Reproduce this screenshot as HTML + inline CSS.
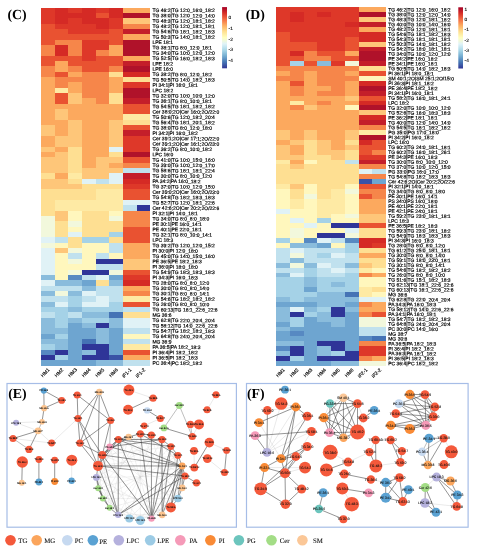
<!DOCTYPE html>
<html lang="en"><head><meta charset="utf-8"><title>Lipid heatmaps and networks</title>
<style>html,body{margin:0;padding:0;background:#fff}svg{display:block}text{text-rendering:geometricPrecision}</style></head>
<body>
<svg width="482" height="550" viewBox="0 0 482 550" shape-rendering="auto">
<defs><linearGradient id="cb" x1="0" y1="0" x2="0" y2="1">
<stop offset="0.000" stop-color="#a50026"/>
<stop offset="0.100" stop-color="#d73027"/>
<stop offset="0.200" stop-color="#f46d43"/>
<stop offset="0.300" stop-color="#fdae61"/>
<stop offset="0.400" stop-color="#fee090"/>
<stop offset="0.500" stop-color="#ffffbf"/>
<stop offset="0.600" stop-color="#e0f3f8"/>
<stop offset="0.700" stop-color="#abd9e9"/>
<stop offset="0.800" stop-color="#74add1"/>
<stop offset="0.900" stop-color="#4575b4"/>
<stop offset="1.000" stop-color="#313695"/>
</linearGradient></defs>
<rect width="482" height="550" fill="#fff"/>
<g shape-rendering="crispEdges">
<rect x="40.90" y="7.50" width="13.96" height="5.65" fill="#de3829"/>
<rect x="54.56" y="7.50" width="13.96" height="5.65" fill="#d52a25"/>
<rect x="68.22" y="7.50" width="13.96" height="5.65" fill="#de3829"/>
<rect x="81.88" y="7.50" width="13.96" height="5.65" fill="#d52a25"/>
<rect x="95.54" y="7.50" width="13.96" height="5.65" fill="#de3829"/>
<rect x="109.20" y="7.50" width="13.96" height="5.65" fill="#d52a25"/>
<rect x="122.86" y="7.50" width="27.62" height="5.65" fill="#fca95e"/>
<rect x="40.90" y="12.85" width="13.96" height="5.65" fill="#de3829"/>
<rect x="54.56" y="12.85" width="41.28" height="5.65" fill="#d52a25"/>
<rect x="95.54" y="12.85" width="13.96" height="5.65" fill="#e95231"/>
<rect x="109.20" y="12.85" width="13.96" height="5.65" fill="#d52a25"/>
<rect x="122.86" y="12.85" width="27.62" height="5.65" fill="#b0122a"/>
<rect x="40.90" y="18.19" width="13.96" height="5.65" fill="#de3829"/>
<rect x="54.56" y="18.19" width="13.96" height="5.65" fill="#d52a25"/>
<rect x="68.22" y="18.19" width="13.96" height="5.65" fill="#de3829"/>
<rect x="81.88" y="18.19" width="27.62" height="5.65" fill="#d52a25"/>
<rect x="109.20" y="18.19" width="13.96" height="5.65" fill="#de3829"/>
<rect x="122.86" y="18.19" width="27.62" height="5.65" fill="#fec679"/>
<rect x="40.90" y="23.54" width="13.96" height="5.65" fill="#e95231"/>
<rect x="54.56" y="23.54" width="41.28" height="5.65" fill="#de3829"/>
<rect x="95.54" y="23.54" width="13.96" height="5.65" fill="#d52a25"/>
<rect x="109.20" y="23.54" width="13.96" height="5.65" fill="#de3829"/>
<rect x="122.86" y="23.54" width="27.62" height="5.65" fill="#f6864a"/>
<rect x="40.90" y="28.89" width="27.62" height="5.65" fill="#e95231"/>
<rect x="68.22" y="28.89" width="41.28" height="5.65" fill="#de3829"/>
<rect x="109.20" y="28.89" width="13.96" height="5.65" fill="#e95231"/>
<rect x="122.86" y="28.89" width="27.62" height="5.65" fill="#c41e2a"/>
<rect x="40.90" y="34.23" width="82.26" height="5.65" fill="#e95231"/>
<rect x="122.86" y="34.23" width="27.62" height="5.65" fill="#fca95e"/>
<rect x="40.90" y="39.58" width="13.96" height="5.65" fill="#e95231"/>
<rect x="54.56" y="39.58" width="27.62" height="5.65" fill="#f6864a"/>
<rect x="81.88" y="39.58" width="27.62" height="5.65" fill="#de3829"/>
<rect x="109.20" y="39.58" width="13.96" height="5.65" fill="#e95231"/>
<rect x="122.86" y="39.58" width="27.62" height="5.65" fill="#b0122a"/>
<rect x="40.90" y="44.93" width="13.96" height="5.65" fill="#f6864a"/>
<rect x="54.56" y="44.93" width="13.96" height="5.65" fill="#d52a25"/>
<rect x="68.22" y="44.93" width="13.96" height="5.65" fill="#f6864a"/>
<rect x="81.88" y="44.93" width="27.62" height="5.65" fill="#de3829"/>
<rect x="109.20" y="44.93" width="13.96" height="5.65" fill="#fca95e"/>
<rect x="122.86" y="44.93" width="27.62" height="5.65" fill="#b0122a"/>
<rect x="40.90" y="50.28" width="13.96" height="5.65" fill="#f6864a"/>
<rect x="54.56" y="50.28" width="13.96" height="5.65" fill="#d52a25"/>
<rect x="68.22" y="50.28" width="13.96" height="5.65" fill="#f6864a"/>
<rect x="81.88" y="50.28" width="13.96" height="5.65" fill="#de3829"/>
<rect x="95.54" y="50.28" width="13.96" height="5.65" fill="#f6864a"/>
<rect x="109.20" y="50.28" width="13.96" height="5.65" fill="#fca95e"/>
<rect x="122.86" y="50.28" width="27.62" height="5.65" fill="#b0122a"/>
<rect x="40.90" y="55.62" width="41.28" height="5.65" fill="#e95231"/>
<rect x="81.88" y="55.62" width="13.96" height="5.65" fill="#de3829"/>
<rect x="95.54" y="55.62" width="27.62" height="5.65" fill="#e95231"/>
<rect x="122.86" y="55.62" width="27.62" height="5.65" fill="#fca95e"/>
<rect x="40.90" y="60.97" width="13.96" height="5.65" fill="#e95231"/>
<rect x="54.56" y="60.97" width="13.96" height="5.65" fill="#fca95e"/>
<rect x="68.22" y="60.97" width="54.94" height="5.65" fill="#e95231"/>
<rect x="122.86" y="60.97" width="27.62" height="5.65" fill="#c41e2a"/>
<rect x="40.90" y="66.32" width="13.96" height="5.65" fill="#f6864a"/>
<rect x="54.56" y="66.32" width="13.96" height="5.65" fill="#fca95e"/>
<rect x="68.22" y="66.32" width="13.96" height="5.65" fill="#f6864a"/>
<rect x="81.88" y="66.32" width="27.62" height="5.65" fill="#e95231"/>
<rect x="109.20" y="66.32" width="13.96" height="5.65" fill="#f6864a"/>
<rect x="122.86" y="66.32" width="27.62" height="5.65" fill="#b0122a"/>
<rect x="40.90" y="71.66" width="13.96" height="5.65" fill="#f6864a"/>
<rect x="54.56" y="71.66" width="13.96" height="5.65" fill="#e95231"/>
<rect x="68.22" y="71.66" width="13.96" height="5.65" fill="#fca95e"/>
<rect x="81.88" y="71.66" width="27.62" height="5.65" fill="#f6864a"/>
<rect x="109.20" y="71.66" width="13.96" height="5.65" fill="#fedf92"/>
<rect x="122.86" y="71.66" width="27.62" height="5.65" fill="#d52a25"/>
<rect x="40.90" y="77.01" width="13.96" height="5.65" fill="#fca95e"/>
<rect x="54.56" y="77.01" width="54.94" height="5.65" fill="#f6864a"/>
<rect x="109.20" y="77.01" width="13.96" height="5.65" fill="#fca95e"/>
<rect x="122.86" y="77.01" width="27.62" height="5.65" fill="#fedf92"/>
<rect x="40.90" y="82.36" width="13.96" height="5.65" fill="#fca95e"/>
<rect x="54.56" y="82.36" width="13.96" height="5.65" fill="#f6864a"/>
<rect x="68.22" y="82.36" width="13.96" height="5.65" fill="#fca95e"/>
<rect x="81.88" y="82.36" width="27.62" height="5.65" fill="#f6864a"/>
<rect x="109.20" y="82.36" width="13.96" height="5.65" fill="#fca95e"/>
<rect x="122.86" y="82.36" width="27.62" height="5.65" fill="#de3829"/>
<rect x="40.90" y="87.71" width="13.96" height="5.65" fill="#fca95e"/>
<rect x="54.56" y="87.71" width="13.96" height="5.65" fill="#feeaa4"/>
<rect x="68.22" y="87.71" width="13.96" height="5.65" fill="#fca95e"/>
<rect x="81.88" y="87.71" width="27.62" height="5.65" fill="#f6864a"/>
<rect x="109.20" y="87.71" width="13.96" height="5.65" fill="#fca95e"/>
<rect x="122.86" y="87.71" width="27.62" height="5.65" fill="#b0122a"/>
<rect x="40.90" y="93.05" width="13.96" height="5.65" fill="#fca95e"/>
<rect x="54.56" y="93.05" width="13.96" height="5.65" fill="#e95231"/>
<rect x="68.22" y="93.05" width="13.96" height="5.65" fill="#fec679"/>
<rect x="81.88" y="93.05" width="27.62" height="5.65" fill="#f6864a"/>
<rect x="109.20" y="93.05" width="13.96" height="5.65" fill="#fedf92"/>
<rect x="122.86" y="93.05" width="27.62" height="5.65" fill="#b0122a"/>
<rect x="40.90" y="98.40" width="13.96" height="5.65" fill="#fca95e"/>
<rect x="54.56" y="98.40" width="13.96" height="5.65" fill="#e95231"/>
<rect x="68.22" y="98.40" width="13.96" height="5.65" fill="#fec679"/>
<rect x="81.88" y="98.40" width="13.96" height="5.65" fill="#fca95e"/>
<rect x="95.54" y="98.40" width="13.96" height="5.65" fill="#f6864a"/>
<rect x="109.20" y="98.40" width="13.96" height="5.65" fill="#fedf92"/>
<rect x="122.86" y="98.40" width="27.62" height="5.65" fill="#c41e2a"/>
<rect x="40.90" y="103.75" width="82.26" height="5.65" fill="#fca95e"/>
<rect x="122.86" y="103.75" width="27.62" height="5.65" fill="#e95231"/>
<rect x="40.90" y="109.09" width="13.96" height="5.65" fill="#fca95e"/>
<rect x="54.56" y="109.09" width="13.96" height="5.65" fill="#fec679"/>
<rect x="68.22" y="109.09" width="54.94" height="5.65" fill="#fca95e"/>
<rect x="122.86" y="109.09" width="27.62" height="5.65" fill="#e95231"/>
<rect x="40.90" y="114.44" width="13.96" height="5.65" fill="#fca95e"/>
<rect x="54.56" y="114.44" width="13.96" height="5.65" fill="#fec679"/>
<rect x="68.22" y="114.44" width="54.94" height="5.65" fill="#fca95e"/>
<rect x="122.86" y="114.44" width="27.62" height="5.65" fill="#feeaa4"/>
<rect x="40.90" y="119.79" width="27.62" height="5.65" fill="#fca95e"/>
<rect x="68.22" y="119.79" width="13.96" height="5.65" fill="#fec679"/>
<rect x="81.88" y="119.79" width="27.62" height="5.65" fill="#fca95e"/>
<rect x="109.20" y="119.79" width="13.96" height="5.65" fill="#fec679"/>
<rect x="122.86" y="119.79" width="27.62" height="5.65" fill="#fedf92"/>
<rect x="40.90" y="125.13" width="13.96" height="5.65" fill="#fec679"/>
<rect x="54.56" y="125.13" width="13.96" height="5.65" fill="#fca95e"/>
<rect x="68.22" y="125.13" width="13.96" height="5.65" fill="#fec679"/>
<rect x="81.88" y="125.13" width="27.62" height="5.65" fill="#fca95e"/>
<rect x="109.20" y="125.13" width="13.96" height="5.65" fill="#fec679"/>
<rect x="122.86" y="125.13" width="27.62" height="5.65" fill="#e95231"/>
<rect x="40.90" y="130.48" width="13.96" height="5.65" fill="#fec679"/>
<rect x="54.56" y="130.48" width="13.96" height="5.65" fill="#fca95e"/>
<rect x="68.22" y="130.48" width="13.96" height="5.65" fill="#fec679"/>
<rect x="81.88" y="130.48" width="27.62" height="5.65" fill="#fca95e"/>
<rect x="109.20" y="130.48" width="13.96" height="5.65" fill="#fec679"/>
<rect x="122.86" y="130.48" width="27.62" height="5.65" fill="#c41e2a"/>
<rect x="40.90" y="135.83" width="13.96" height="5.65" fill="#fca95e"/>
<rect x="54.56" y="135.83" width="27.62" height="5.65" fill="#fec679"/>
<rect x="81.88" y="135.83" width="27.62" height="5.65" fill="#fca95e"/>
<rect x="109.20" y="135.83" width="13.96" height="5.65" fill="#fec679"/>
<rect x="122.86" y="135.83" width="27.62" height="5.65" fill="#de3829"/>
<rect x="40.90" y="141.18" width="13.96" height="5.65" fill="#fca95e"/>
<rect x="54.56" y="141.18" width="27.62" height="5.65" fill="#fec679"/>
<rect x="81.88" y="141.18" width="27.62" height="5.65" fill="#fca95e"/>
<rect x="109.20" y="141.18" width="13.96" height="5.65" fill="#fec679"/>
<rect x="122.86" y="141.18" width="27.62" height="5.65" fill="#de3829"/>
<rect x="40.90" y="146.52" width="13.96" height="5.65" fill="#fec679"/>
<rect x="54.56" y="146.52" width="13.96" height="5.65" fill="#fca95e"/>
<rect x="68.22" y="146.52" width="13.96" height="5.65" fill="#fedf92"/>
<rect x="81.88" y="146.52" width="27.62" height="5.65" fill="#fca95e"/>
<rect x="109.20" y="146.52" width="13.96" height="5.65" fill="#e0f2f6"/>
<rect x="122.86" y="146.52" width="27.62" height="5.65" fill="#de3829"/>
<rect x="40.90" y="151.87" width="13.96" height="5.65" fill="#fca95e"/>
<rect x="54.56" y="151.87" width="13.96" height="5.65" fill="#fec679"/>
<rect x="68.22" y="151.87" width="13.96" height="5.65" fill="#fedf92"/>
<rect x="81.88" y="151.87" width="27.62" height="5.65" fill="#fca95e"/>
<rect x="109.20" y="151.87" width="13.96" height="5.65" fill="#fedf92"/>
<rect x="122.86" y="151.87" width="27.62" height="5.65" fill="#b0122a"/>
<rect x="40.90" y="157.22" width="27.62" height="5.65" fill="#fec679"/>
<rect x="68.22" y="157.22" width="13.96" height="5.65" fill="#fedf92"/>
<rect x="81.88" y="157.22" width="13.96" height="5.65" fill="#fca95e"/>
<rect x="95.54" y="157.22" width="27.62" height="5.65" fill="#fec679"/>
<rect x="122.86" y="157.22" width="27.62" height="5.65" fill="#e95231"/>
<rect x="40.90" y="162.56" width="27.62" height="5.65" fill="#fec679"/>
<rect x="68.22" y="162.56" width="13.96" height="5.65" fill="#fedf92"/>
<rect x="81.88" y="162.56" width="13.96" height="5.65" fill="#fca95e"/>
<rect x="95.54" y="162.56" width="13.96" height="5.65" fill="#fec679"/>
<rect x="109.20" y="162.56" width="13.96" height="5.65" fill="#fca95e"/>
<rect x="122.86" y="162.56" width="27.62" height="5.65" fill="#f6864a"/>
<rect x="40.90" y="167.91" width="27.62" height="5.65" fill="#fec679"/>
<rect x="68.22" y="167.91" width="13.96" height="5.65" fill="#fedf92"/>
<rect x="81.88" y="167.91" width="41.28" height="5.65" fill="#fec679"/>
<rect x="122.86" y="167.91" width="27.62" height="5.65" fill="#c0e1ee"/>
<rect x="40.90" y="173.26" width="13.96" height="5.65" fill="#fedf92"/>
<rect x="54.56" y="173.26" width="13.96" height="5.65" fill="#fca95e"/>
<rect x="68.22" y="173.26" width="13.96" height="5.65" fill="#feeaa4"/>
<rect x="81.88" y="173.26" width="27.62" height="5.65" fill="#fec679"/>
<rect x="109.20" y="173.26" width="13.96" height="5.65" fill="#e0f2f6"/>
<rect x="122.86" y="173.26" width="27.62" height="5.65" fill="#c41e2a"/>
<rect x="40.90" y="178.60" width="27.62" height="5.65" fill="#fec679"/>
<rect x="68.22" y="178.60" width="13.96" height="5.65" fill="#fedf92"/>
<rect x="81.88" y="178.60" width="13.96" height="5.65" fill="#e0f2f6"/>
<rect x="95.54" y="178.60" width="13.96" height="5.65" fill="#c0e1ee"/>
<rect x="109.20" y="178.60" width="13.96" height="5.65" fill="#e0f2f6"/>
<rect x="122.86" y="178.60" width="27.62" height="5.65" fill="#d52a25"/>
<rect x="40.90" y="183.95" width="41.28" height="5.65" fill="#fec679"/>
<rect x="81.88" y="183.95" width="41.28" height="5.65" fill="#fedf92"/>
<rect x="122.86" y="183.95" width="27.62" height="5.65" fill="#de3829"/>
<rect x="40.90" y="189.30" width="54.94" height="5.65" fill="#fedf92"/>
<rect x="95.54" y="189.30" width="27.62" height="5.65" fill="#feeaa4"/>
<rect x="122.86" y="189.30" width="27.62" height="5.65" fill="#e95231"/>
<rect x="40.90" y="194.65" width="54.94" height="5.65" fill="#fedf92"/>
<rect x="95.54" y="194.65" width="27.62" height="5.65" fill="#feeaa4"/>
<rect x="122.86" y="194.65" width="27.62" height="5.65" fill="#e95231"/>
<rect x="40.90" y="199.99" width="13.96" height="5.65" fill="#fedf92"/>
<rect x="54.56" y="199.99" width="68.60" height="5.65" fill="#feeaa4"/>
<rect x="122.86" y="199.99" width="27.62" height="5.65" fill="#e0f2f6"/>
<rect x="40.90" y="205.34" width="13.96" height="5.65" fill="#fedf92"/>
<rect x="54.56" y="205.34" width="68.60" height="5.65" fill="#feeaa4"/>
<rect x="122.86" y="205.34" width="13.96" height="5.65" fill="#c0e1ee"/>
<rect x="136.52" y="205.34" width="13.96" height="5.65" fill="#2f3598"/>
<rect x="40.90" y="210.69" width="13.96" height="5.65" fill="#fedf92"/>
<rect x="54.56" y="210.69" width="13.96" height="5.65" fill="#fec679"/>
<rect x="68.22" y="210.69" width="13.96" height="5.65" fill="#fff7bd"/>
<rect x="81.88" y="210.69" width="27.62" height="5.65" fill="#fedf92"/>
<rect x="109.20" y="210.69" width="13.96" height="5.65" fill="#fff7bd"/>
<rect x="122.86" y="210.69" width="27.62" height="5.65" fill="#f6864a"/>
<rect x="40.90" y="216.03" width="13.96" height="5.65" fill="#f2f8dc"/>
<rect x="54.56" y="216.03" width="13.96" height="5.65" fill="#fec679"/>
<rect x="68.22" y="216.03" width="13.96" height="5.65" fill="#fff7bd"/>
<rect x="81.88" y="216.03" width="27.62" height="5.65" fill="#fedf92"/>
<rect x="109.20" y="216.03" width="13.96" height="5.65" fill="#f2f8dc"/>
<rect x="122.86" y="216.03" width="27.62" height="5.65" fill="#f6864a"/>
<rect x="40.90" y="221.38" width="13.96" height="5.65" fill="#f2f8dc"/>
<rect x="54.56" y="221.38" width="13.96" height="5.65" fill="#fedf92"/>
<rect x="68.22" y="221.38" width="13.96" height="5.65" fill="#f2f8dc"/>
<rect x="81.88" y="221.38" width="41.28" height="5.65" fill="#fedf92"/>
<rect x="122.86" y="221.38" width="27.62" height="5.65" fill="#f6864a"/>
<rect x="40.90" y="226.73" width="13.96" height="5.65" fill="#f2f8dc"/>
<rect x="54.56" y="226.73" width="13.96" height="5.65" fill="#fedf92"/>
<rect x="68.22" y="226.73" width="13.96" height="5.65" fill="#fff7bd"/>
<rect x="81.88" y="226.73" width="41.28" height="5.65" fill="#fedf92"/>
<rect x="122.86" y="226.73" width="27.62" height="5.65" fill="#e95231"/>
<rect x="40.90" y="232.07" width="13.96" height="5.65" fill="#f2f8dc"/>
<rect x="54.56" y="232.07" width="13.96" height="5.65" fill="#fedf92"/>
<rect x="68.22" y="232.07" width="13.96" height="5.65" fill="#e0f2f6"/>
<rect x="81.88" y="232.07" width="27.62" height="5.65" fill="#fedf92"/>
<rect x="109.20" y="232.07" width="13.96" height="5.65" fill="#a5d2e7"/>
<rect x="122.86" y="232.07" width="27.62" height="5.65" fill="#e95231"/>
<rect x="40.90" y="237.42" width="13.96" height="5.65" fill="#e0f2f6"/>
<rect x="54.56" y="237.42" width="13.96" height="5.65" fill="#c0e1ee"/>
<rect x="68.22" y="237.42" width="13.96" height="5.65" fill="#fedf92"/>
<rect x="81.88" y="237.42" width="27.62" height="5.65" fill="#a5d2e7"/>
<rect x="109.20" y="237.42" width="13.96" height="5.65" fill="#fedf92"/>
<rect x="122.86" y="237.42" width="27.62" height="5.65" fill="#e95231"/>
<rect x="40.90" y="242.77" width="13.96" height="5.65" fill="#f2f8dc"/>
<rect x="54.56" y="242.77" width="13.96" height="5.65" fill="#fff7bd"/>
<rect x="68.22" y="242.77" width="13.96" height="5.65" fill="#fedf92"/>
<rect x="81.88" y="242.77" width="27.62" height="5.65" fill="#fff7bd"/>
<rect x="109.20" y="242.77" width="13.96" height="5.65" fill="#c0e1ee"/>
<rect x="122.86" y="242.77" width="27.62" height="5.65" fill="#fca95e"/>
<rect x="40.90" y="248.12" width="13.96" height="5.65" fill="#e0f2f6"/>
<rect x="54.56" y="248.12" width="13.96" height="5.65" fill="#fec679"/>
<rect x="68.22" y="248.12" width="13.96" height="5.65" fill="#f2f8dc"/>
<rect x="81.88" y="248.12" width="27.62" height="5.65" fill="#fff7bd"/>
<rect x="109.20" y="248.12" width="13.96" height="5.65" fill="#c0e1ee"/>
<rect x="122.86" y="248.12" width="27.62" height="5.65" fill="#fca95e"/>
<rect x="40.90" y="253.46" width="13.96" height="5.65" fill="#e0f2f6"/>
<rect x="54.56" y="253.46" width="13.96" height="5.65" fill="#fff7bd"/>
<rect x="68.22" y="253.46" width="13.96" height="5.65" fill="#c0e1ee"/>
<rect x="81.88" y="253.46" width="13.96" height="5.65" fill="#fff7bd"/>
<rect x="95.54" y="253.46" width="13.96" height="5.65" fill="#c0e1ee"/>
<rect x="109.20" y="253.46" width="13.96" height="5.65" fill="#fff7bd"/>
<rect x="122.86" y="253.46" width="27.62" height="5.65" fill="#fca95e"/>
<rect x="40.90" y="258.81" width="13.96" height="5.65" fill="#e0f2f6"/>
<rect x="54.56" y="258.81" width="13.96" height="5.65" fill="#fff7bd"/>
<rect x="68.22" y="258.81" width="13.96" height="5.65" fill="#f2f8dc"/>
<rect x="81.88" y="258.81" width="13.96" height="5.65" fill="#fff7bd"/>
<rect x="95.54" y="258.81" width="27.62" height="5.65" fill="#2f3598"/>
<rect x="122.86" y="258.81" width="27.62" height="5.65" fill="#fec679"/>
<rect x="40.90" y="264.16" width="13.96" height="5.65" fill="#e0f2f6"/>
<rect x="54.56" y="264.16" width="41.28" height="5.65" fill="#fff7bd"/>
<rect x="95.54" y="264.16" width="27.62" height="5.65" fill="#c0e1ee"/>
<rect x="122.86" y="264.16" width="27.62" height="5.65" fill="#fec679"/>
<rect x="40.90" y="269.50" width="13.96" height="5.65" fill="#e0f2f6"/>
<rect x="54.56" y="269.50" width="13.96" height="5.65" fill="#fff7bd"/>
<rect x="68.22" y="269.50" width="13.96" height="5.65" fill="#f2f8dc"/>
<rect x="81.88" y="269.50" width="27.62" height="5.65" fill="#2f3598"/>
<rect x="109.20" y="269.50" width="13.96" height="5.65" fill="#f2f8dc"/>
<rect x="122.86" y="269.50" width="27.62" height="5.65" fill="#e95231"/>
<rect x="40.90" y="274.85" width="13.96" height="5.65" fill="#8abcdc"/>
<rect x="54.56" y="274.85" width="13.96" height="5.65" fill="#fff7bd"/>
<rect x="68.22" y="274.85" width="13.96" height="5.65" fill="#5789c2"/>
<rect x="81.88" y="274.85" width="13.96" height="5.65" fill="#c0e1ee"/>
<rect x="95.54" y="274.85" width="13.96" height="5.65" fill="#e0f2f6"/>
<rect x="109.20" y="274.85" width="13.96" height="5.65" fill="#6ea5d0"/>
<rect x="122.86" y="274.85" width="27.62" height="5.65" fill="#de3829"/>
<rect x="40.90" y="280.20" width="13.96" height="5.65" fill="#e0f2f6"/>
<rect x="54.56" y="280.20" width="27.62" height="5.65" fill="#8abcdc"/>
<rect x="81.88" y="280.20" width="13.96" height="5.65" fill="#6ea5d0"/>
<rect x="95.54" y="280.20" width="13.96" height="5.65" fill="#fedf92"/>
<rect x="109.20" y="280.20" width="13.96" height="5.65" fill="#8abcdc"/>
<rect x="122.86" y="280.20" width="27.62" height="5.65" fill="#d52a25"/>
<rect x="40.90" y="285.54" width="41.28" height="5.65" fill="#c0e1ee"/>
<rect x="81.88" y="285.54" width="13.96" height="5.65" fill="#8abcdc"/>
<rect x="95.54" y="285.54" width="27.62" height="5.65" fill="#c0e1ee"/>
<rect x="122.86" y="285.54" width="27.62" height="5.65" fill="#fca95e"/>
<rect x="40.90" y="290.89" width="13.96" height="5.65" fill="#8abcdc"/>
<rect x="54.56" y="290.89" width="13.96" height="5.65" fill="#f2f8dc"/>
<rect x="68.22" y="290.89" width="13.96" height="5.65" fill="#8abcdc"/>
<rect x="81.88" y="290.89" width="13.96" height="5.65" fill="#e0f2f6"/>
<rect x="95.54" y="290.89" width="27.62" height="5.65" fill="#c0e1ee"/>
<rect x="122.86" y="290.89" width="27.62" height="5.65" fill="#f6864a"/>
<rect x="40.90" y="296.24" width="27.62" height="5.65" fill="#c0e1ee"/>
<rect x="68.22" y="296.24" width="13.96" height="5.65" fill="#a5d2e7"/>
<rect x="81.88" y="296.24" width="13.96" height="5.65" fill="#c0e1ee"/>
<rect x="95.54" y="296.24" width="13.96" height="5.65" fill="#e0f2f6"/>
<rect x="109.20" y="296.24" width="13.96" height="5.65" fill="#c0e1ee"/>
<rect x="122.86" y="296.24" width="27.62" height="5.65" fill="#feeaa4"/>
<rect x="40.90" y="301.59" width="13.96" height="5.65" fill="#8abcdc"/>
<rect x="54.56" y="301.59" width="13.96" height="5.65" fill="#e0f2f6"/>
<rect x="68.22" y="301.59" width="13.96" height="5.65" fill="#a5d2e7"/>
<rect x="81.88" y="301.59" width="27.62" height="5.65" fill="#e0f2f6"/>
<rect x="109.20" y="301.59" width="13.96" height="5.65" fill="#a5d2e7"/>
<rect x="122.86" y="301.59" width="27.62" height="5.65" fill="#e95231"/>
<rect x="40.90" y="306.93" width="27.62" height="5.65" fill="#a5d2e7"/>
<rect x="68.22" y="306.93" width="13.96" height="5.65" fill="#8abcdc"/>
<rect x="81.88" y="306.93" width="41.28" height="5.65" fill="#a5d2e7"/>
<rect x="122.86" y="306.93" width="27.62" height="5.65" fill="#c0e1ee"/>
<rect x="40.90" y="312.28" width="13.96" height="5.65" fill="#c0e1ee"/>
<rect x="54.56" y="312.28" width="13.96" height="5.65" fill="#a5d2e7"/>
<rect x="68.22" y="312.28" width="13.96" height="5.65" fill="#c0e1ee"/>
<rect x="81.88" y="312.28" width="27.62" height="5.65" fill="#8abcdc"/>
<rect x="109.20" y="312.28" width="13.96" height="5.65" fill="#4573b5"/>
<rect x="122.86" y="312.28" width="27.62" height="5.65" fill="#fedf92"/>
<rect x="40.90" y="317.63" width="13.96" height="5.65" fill="#8abcdc"/>
<rect x="54.56" y="317.63" width="13.96" height="5.65" fill="#a5d2e7"/>
<rect x="68.22" y="317.63" width="13.96" height="5.65" fill="#8abcdc"/>
<rect x="81.88" y="317.63" width="27.62" height="5.65" fill="#a5d2e7"/>
<rect x="109.20" y="317.63" width="13.96" height="5.65" fill="#8abcdc"/>
<rect x="122.86" y="317.63" width="27.62" height="5.65" fill="#e0f2f6"/>
<rect x="40.90" y="322.97" width="13.96" height="5.65" fill="#8abcdc"/>
<rect x="54.56" y="322.97" width="13.96" height="5.65" fill="#a5d2e7"/>
<rect x="68.22" y="322.97" width="13.96" height="5.65" fill="#6ea5d0"/>
<rect x="81.88" y="322.97" width="13.96" height="5.65" fill="#8abcdc"/>
<rect x="95.54" y="322.97" width="13.96" height="5.65" fill="#2f3598"/>
<rect x="109.20" y="322.97" width="13.96" height="5.65" fill="#8abcdc"/>
<rect x="122.86" y="322.97" width="27.62" height="5.65" fill="#e0f2f6"/>
<rect x="40.90" y="328.32" width="27.62" height="5.65" fill="#8abcdc"/>
<rect x="68.22" y="328.32" width="27.62" height="5.65" fill="#6ea5d0"/>
<rect x="95.54" y="328.32" width="13.96" height="5.65" fill="#8abcdc"/>
<rect x="109.20" y="328.32" width="13.96" height="5.65" fill="#6ea5d0"/>
<rect x="122.86" y="328.32" width="27.62" height="5.65" fill="#c0e1ee"/>
<rect x="40.90" y="333.67" width="13.96" height="5.65" fill="#6ea5d0"/>
<rect x="54.56" y="333.67" width="13.96" height="5.65" fill="#a5d2e7"/>
<rect x="68.22" y="333.67" width="27.62" height="5.65" fill="#6ea5d0"/>
<rect x="95.54" y="333.67" width="13.96" height="5.65" fill="#8abcdc"/>
<rect x="109.20" y="333.67" width="13.96" height="5.65" fill="#6ea5d0"/>
<rect x="122.86" y="333.67" width="27.62" height="5.65" fill="#fff7bd"/>
<rect x="40.90" y="339.01" width="27.62" height="5.65" fill="#8abcdc"/>
<rect x="68.22" y="339.01" width="13.96" height="5.65" fill="#6ea5d0"/>
<rect x="81.88" y="339.01" width="13.96" height="5.65" fill="#4573b5"/>
<rect x="95.54" y="339.01" width="13.96" height="5.65" fill="#8abcdc"/>
<rect x="109.20" y="339.01" width="13.96" height="5.65" fill="#6ea5d0"/>
<rect x="122.86" y="339.01" width="27.62" height="5.65" fill="#c0e1ee"/>
<rect x="40.90" y="344.36" width="13.96" height="5.65" fill="#a5d2e7"/>
<rect x="54.56" y="344.36" width="13.96" height="5.65" fill="#8abcdc"/>
<rect x="68.22" y="344.36" width="13.96" height="5.65" fill="#6ea5d0"/>
<rect x="81.88" y="344.36" width="27.62" height="5.65" fill="#2f3598"/>
<rect x="109.20" y="344.36" width="13.96" height="5.65" fill="#6ea5d0"/>
<rect x="122.86" y="344.36" width="27.62" height="5.65" fill="#feeaa4"/>
<rect x="40.90" y="349.71" width="13.96" height="5.65" fill="#5789c2"/>
<rect x="54.56" y="349.71" width="13.96" height="5.65" fill="#2f3598"/>
<rect x="68.22" y="349.71" width="13.96" height="5.65" fill="#6ea5d0"/>
<rect x="81.88" y="349.71" width="13.96" height="5.65" fill="#8abcdc"/>
<rect x="95.54" y="349.71" width="13.96" height="5.65" fill="#2f3598"/>
<rect x="109.20" y="349.71" width="13.96" height="5.65" fill="#6ea5d0"/>
<rect x="122.86" y="349.71" width="27.62" height="5.65" fill="#e95231"/>
<rect x="40.90" y="355.06" width="13.96" height="5.65" fill="#2f3598"/>
<rect x="54.56" y="355.06" width="13.96" height="5.65" fill="#a5d2e7"/>
<rect x="68.22" y="355.06" width="13.96" height="5.65" fill="#6ea5d0"/>
<rect x="81.88" y="355.06" width="27.62" height="5.65" fill="#2f3598"/>
<rect x="109.20" y="355.06" width="13.96" height="5.65" fill="#3a52a6"/>
<rect x="122.86" y="355.06" width="27.62" height="5.65" fill="#fca95e"/>
<rect x="40.90" y="360.40" width="54.94" height="5.65" fill="#6ea5d0"/>
<rect x="95.54" y="360.40" width="27.62" height="5.65" fill="#8abcdc"/>
<rect x="122.86" y="360.40" width="27.62" height="5.65" fill="#c0e1ee"/>
</g>
<g font-family="Liberation Sans, sans-serif" font-size="5" fill="#000" stroke="#000" stroke-width="0.18" transform="translate(152.4,0) matrix(1,0.003,0,1,0,0)">
<text x="0" y="11.92">TG 46:2|TG 12:0_16:0_18:2</text>
<text x="0" y="17.27">TG 38:0|TG 12:0_12:0_14:0</text>
<text x="0" y="22.62">TG 48:3|TG 12:0_18:1_18:2</text>
<text x="0" y="27.96">TG 48:2|TG 12:0_18:1_18:1</text>
<text x="0" y="33.31">TG 54:6|TG 18:1_18:2_18:3</text>
<text x="0" y="38.66">TG 50:3|TG 14:0_18:1_18:2</text>
<text x="0" y="44.01">LPE 18:1</text>
<text x="0" y="49.35">TG 38:1|TG 8:0_12:0_18:1</text>
<text x="0" y="54.70">TG 34:0|TG 10:0_12:0_12:0</text>
<text x="0" y="60.05">TG 52:5|TG 16:0_18:2_18:3</text>
<text x="0" y="65.39">LPE 18:2</text>
<text x="0" y="70.74">LPE 16:0</text>
<text x="0" y="76.09">TG 38:2|TG 8:0_12:0_18:2</text>
<text x="0" y="81.43">TG 50:5|TG 14:0_18:2_18:3</text>
<text x="0" y="86.78">PI 34:1|PI 16:0_18:1</text>
<text x="0" y="92.13">LPC 18:2</text>
<text x="0" y="97.48">TG 32:0|TG 10:0_10:0_12:0</text>
<text x="0" y="102.82">TG 36:1|TG 8:0_10:0_18:1</text>
<text x="0" y="108.17">TG 54:5|TG 18:1_18:2_18:2</text>
<text x="0" y="113.52">Cer 38:0;2O|Cer 16:0;2O/22:0</text>
<text x="0" y="118.86">TG 50:6|TG 12:0_18:2_20:4</text>
<text x="0" y="124.21">TG 56:4|TG 18:1_20:1_18:2</text>
<text x="0" y="129.56">TG 38:0|TG 8:0_12:0_18:0</text>
<text x="0" y="134.90">PI 34:2|PI 16:0_18:2</text>
<text x="0" y="140.25">Cer 39:1;2O|Cer 17:1;2O/22:0</text>
<text x="0" y="145.60">Cer 39:1;2O|Cer 16:1;2O/23:0</text>
<text x="0" y="150.95">TG 36:2|TG 8:0_10:0_18:2</text>
<text x="0" y="156.29">LPC 16:0</text>
<text x="0" y="161.64">TG 41:0|TG 10:0_15:0_16:0</text>
<text x="0" y="166.99">TG 39:0|TG 10:0_12:0_17:0</text>
<text x="0" y="172.33">TG 58:6|TG 18:1_18:1_22:4</text>
<text x="0" y="177.68">TG 30:0|TG 8:0_10:0_12:0</text>
<text x="0" y="183.03">PA 34:2|PA 16:0_18:2</text>
<text x="0" y="188.37">TG 37:0|TG 10:0_12:0_15:0</text>
<text x="0" y="193.72">Cer 39:0;2O|Cer 16:0;2O/23:0</text>
<text x="0" y="199.07">TG 54:8|TG 18:2_18:3_18:3</text>
<text x="0" y="204.42">TG 52:7|TG 12:0_18:1_22:6</text>
<text x="0" y="209.76">Cer 42:6;2O|Cer 20:2;2O/22:6</text>
<text x="0" y="215.11">PI 32:1|PI 14:0_18:1</text>
<text x="0" y="220.46">TG 34:0|TG 8:0_8:0_18:0</text>
<text x="0" y="225.80">PE 30:1|PE 16:0_14:1</text>
<text x="0" y="231.15">PE 40:1|PE 22:0_18:1</text>
<text x="0" y="236.50">TG 32:1|TG 8:0_10:0_14:1</text>
<text x="0" y="241.84">LPC 18:3</text>
<text x="0" y="247.19">TG 39:2|TG 12:0_12:0_15:2</text>
<text x="0" y="252.54">PI 30:0|PI 12:0_18:0</text>
<text x="0" y="257.89">TG 45:0|TG 14:0_15:0_16:0</text>
<text x="0" y="263.23">PE 36:5|PE 18:2_18:3</text>
<text x="0" y="268.58">PI 36:0|PI 18:0_18:0</text>
<text x="0" y="273.93">TG 54:9|TG 18:3_18:3_18:3</text>
<text x="0" y="279.27">PI 34:3|PI 16:0_18:3</text>
<text x="0" y="284.62">TG 28:0|TG 8:0_8:0_12:0</text>
<text x="0" y="289.97">TG 30:0|TG 8:0_8:0_14:0</text>
<text x="0" y="295.31">TG 30:1|TG 8:0_8:0_14:1</text>
<text x="0" y="300.66">TG 54:6|TG 18:2_18:2_18:2</text>
<text x="0" y="306.01">TG 26:0|TG 8:0_8:0_10:0</text>
<text x="0" y="311.36">TG 60:13|TG 16:1_22:6_22:6</text>
<text x="0" y="316.70">MG 36:6</text>
<text x="0" y="322.05">TG 62:8|TG 22:0_20:4_20:4</text>
<text x="0" y="327.40">TG 58:12|TG 14:0_22:6_22:6</text>
<text x="0" y="332.74">TG 54:7|TG 18:2_18:2_18:3</text>
<text x="0" y="338.09">TG 64:8|TG 24:0_20:4_20:4</text>
<text x="0" y="343.44">MG 36:9</text>
<text x="0" y="348.78">PA 36:5|PA 18:2_18:3</text>
<text x="0" y="354.13">PI 36:4|PI 18:2_18:2</text>
<text x="0" y="359.48">PI 36:5|PI 18:2_18:3</text>
<text x="0" y="364.83">PC 36:4|PC 18:2_18:2</text>
</g>
<g font-family="Liberation Sans, sans-serif" font-size="4.9" fill="#000" stroke="#000" stroke-width="0.15" text-anchor="end">
<text transform="translate(50.03,370.15) rotate(-45)">HM1</text>
<text transform="translate(63.69,370.15) rotate(-45)">HM2</text>
<text transform="translate(77.35,370.15) rotate(-45)">HM3</text>
<text transform="translate(91.01,370.15) rotate(-45)">HM4</text>
<text transform="translate(104.67,370.15) rotate(-45)">HM5</text>
<text transform="translate(118.33,370.15) rotate(-45)">HM6</text>
<text transform="translate(131.99,370.15) rotate(-45)">IF1-1</text>
<text transform="translate(145.65,370.15) rotate(-45)">IF1-2</text>
</g>
<g shape-rendering="crispEdges">
<rect x="276.00" y="7.20" width="82.92" height="5.21" fill="#de3829"/>
<rect x="358.62" y="7.20" width="27.84" height="5.21" fill="#fca95e"/>
<rect x="276.00" y="12.11" width="14.07" height="5.21" fill="#de3829"/>
<rect x="289.77" y="12.11" width="14.07" height="5.21" fill="#d52a25"/>
<rect x="303.54" y="12.11" width="14.07" height="5.21" fill="#de3829"/>
<rect x="317.31" y="12.11" width="14.07" height="5.21" fill="#d52a25"/>
<rect x="331.08" y="12.11" width="27.84" height="5.21" fill="#de3829"/>
<rect x="358.62" y="12.11" width="27.84" height="5.21" fill="#b0122a"/>
<rect x="276.00" y="17.03" width="14.07" height="5.21" fill="#de3829"/>
<rect x="289.77" y="17.03" width="14.07" height="5.21" fill="#d52a25"/>
<rect x="303.54" y="17.03" width="55.38" height="5.21" fill="#de3829"/>
<rect x="358.62" y="17.03" width="27.84" height="5.21" fill="#fec679"/>
<rect x="276.00" y="21.94" width="69.15" height="5.21" fill="#de3829"/>
<rect x="344.85" y="21.94" width="14.07" height="5.21" fill="#d52a25"/>
<rect x="358.62" y="21.94" width="27.84" height="5.21" fill="#c41e2a"/>
<rect x="276.00" y="26.85" width="82.92" height="5.21" fill="#de3829"/>
<rect x="358.62" y="26.85" width="27.84" height="5.21" fill="#fca95e"/>
<rect x="276.00" y="31.77" width="14.07" height="5.21" fill="#e95231"/>
<rect x="289.77" y="31.77" width="69.15" height="5.21" fill="#de3829"/>
<rect x="358.62" y="31.77" width="27.84" height="5.21" fill="#d52a25"/>
<rect x="276.00" y="36.68" width="14.07" height="5.21" fill="#e95231"/>
<rect x="289.77" y="36.68" width="55.38" height="5.21" fill="#de3829"/>
<rect x="344.85" y="36.68" width="14.07" height="5.21" fill="#e95231"/>
<rect x="358.62" y="36.68" width="27.84" height="5.21" fill="#d52a25"/>
<rect x="276.00" y="41.59" width="41.61" height="5.21" fill="#e95231"/>
<rect x="317.31" y="41.59" width="27.84" height="5.21" fill="#de3829"/>
<rect x="344.85" y="41.59" width="14.07" height="5.21" fill="#e95231"/>
<rect x="358.62" y="41.59" width="27.84" height="5.21" fill="#fec679"/>
<rect x="276.00" y="46.50" width="41.61" height="5.21" fill="#e95231"/>
<rect x="317.31" y="46.50" width="27.84" height="5.21" fill="#de3829"/>
<rect x="344.85" y="46.50" width="14.07" height="5.21" fill="#e95231"/>
<rect x="358.62" y="46.50" width="27.84" height="5.21" fill="#c41e2a"/>
<rect x="276.00" y="51.42" width="14.07" height="5.21" fill="#e95231"/>
<rect x="289.77" y="51.42" width="14.07" height="5.21" fill="#d52a25"/>
<rect x="303.54" y="51.42" width="14.07" height="5.21" fill="#f6864a"/>
<rect x="317.31" y="51.42" width="27.84" height="5.21" fill="#e95231"/>
<rect x="344.85" y="51.42" width="14.07" height="5.21" fill="#fca95e"/>
<rect x="358.62" y="51.42" width="27.84" height="5.21" fill="#b0122a"/>
<rect x="276.00" y="56.33" width="27.84" height="5.21" fill="#e95231"/>
<rect x="303.54" y="56.33" width="27.84" height="5.21" fill="#f6864a"/>
<rect x="331.08" y="56.33" width="27.84" height="5.21" fill="#e95231"/>
<rect x="358.62" y="56.33" width="27.84" height="5.21" fill="#b0122a"/>
<rect x="276.00" y="61.24" width="14.07" height="5.21" fill="#e95231"/>
<rect x="289.77" y="61.24" width="14.07" height="5.21" fill="#a5d2e7"/>
<rect x="303.54" y="61.24" width="14.07" height="5.21" fill="#e95231"/>
<rect x="317.31" y="61.24" width="14.07" height="5.21" fill="#8abcdc"/>
<rect x="331.08" y="61.24" width="14.07" height="5.21" fill="#de3829"/>
<rect x="344.85" y="61.24" width="14.07" height="5.21" fill="#f2f8dc"/>
<rect x="358.62" y="61.24" width="27.84" height="5.21" fill="#c41e2a"/>
<rect x="276.00" y="66.16" width="82.92" height="5.21" fill="#f6864a"/>
<rect x="358.62" y="66.16" width="27.84" height="5.21" fill="#fedf92"/>
<rect x="276.00" y="71.07" width="14.07" height="5.21" fill="#fca95e"/>
<rect x="289.77" y="71.07" width="14.07" height="5.21" fill="#f6864a"/>
<rect x="303.54" y="71.07" width="14.07" height="5.21" fill="#fca95e"/>
<rect x="317.31" y="71.07" width="27.84" height="5.21" fill="#f6864a"/>
<rect x="344.85" y="71.07" width="14.07" height="5.21" fill="#fca95e"/>
<rect x="358.62" y="71.07" width="27.84" height="5.21" fill="#e95231"/>
<rect x="276.00" y="75.98" width="27.84" height="5.21" fill="#f6864a"/>
<rect x="303.54" y="75.98" width="14.07" height="5.21" fill="#fca95e"/>
<rect x="317.31" y="75.98" width="41.61" height="5.21" fill="#f6864a"/>
<rect x="358.62" y="75.98" width="27.84" height="5.21" fill="#fff7bd"/>
<rect x="276.00" y="80.90" width="14.07" height="5.21" fill="#fca95e"/>
<rect x="289.77" y="80.90" width="14.07" height="5.21" fill="#e95231"/>
<rect x="303.54" y="80.90" width="14.07" height="5.21" fill="#fca95e"/>
<rect x="317.31" y="80.90" width="27.84" height="5.21" fill="#f6864a"/>
<rect x="344.85" y="80.90" width="14.07" height="5.21" fill="#fca95e"/>
<rect x="358.62" y="80.90" width="27.84" height="5.21" fill="#d52a25"/>
<rect x="276.00" y="85.81" width="14.07" height="5.21" fill="#fca95e"/>
<rect x="289.77" y="85.81" width="14.07" height="5.21" fill="#f6864a"/>
<rect x="303.54" y="85.81" width="27.84" height="5.21" fill="#fca95e"/>
<rect x="331.08" y="85.81" width="14.07" height="5.21" fill="#f6864a"/>
<rect x="344.85" y="85.81" width="14.07" height="5.21" fill="#fca95e"/>
<rect x="358.62" y="85.81" width="27.84" height="5.21" fill="#b0122a"/>
<rect x="276.00" y="90.72" width="14.07" height="5.21" fill="#fca95e"/>
<rect x="289.77" y="90.72" width="14.07" height="5.21" fill="#f6864a"/>
<rect x="303.54" y="90.72" width="14.07" height="5.21" fill="#fca95e"/>
<rect x="317.31" y="90.72" width="27.84" height="5.21" fill="#f6864a"/>
<rect x="344.85" y="90.72" width="14.07" height="5.21" fill="#fca95e"/>
<rect x="358.62" y="90.72" width="27.84" height="5.21" fill="#c41e2a"/>
<rect x="276.00" y="95.63" width="69.15" height="5.21" fill="#fca95e"/>
<rect x="344.85" y="95.63" width="14.07" height="5.21" fill="#fec679"/>
<rect x="358.62" y="95.63" width="27.84" height="5.21" fill="#e95231"/>
<rect x="276.00" y="100.55" width="14.07" height="5.21" fill="#fca95e"/>
<rect x="289.77" y="100.55" width="14.07" height="5.21" fill="#feeaa4"/>
<rect x="303.54" y="100.55" width="14.07" height="5.21" fill="#fca95e"/>
<rect x="317.31" y="100.55" width="14.07" height="5.21" fill="#f6864a"/>
<rect x="331.08" y="100.55" width="27.84" height="5.21" fill="#fca95e"/>
<rect x="358.62" y="100.55" width="27.84" height="5.21" fill="#d52a25"/>
<rect x="276.00" y="105.46" width="14.07" height="5.21" fill="#fca95e"/>
<rect x="289.77" y="105.46" width="14.07" height="5.21" fill="#f6864a"/>
<rect x="303.54" y="105.46" width="14.07" height="5.21" fill="#fec679"/>
<rect x="317.31" y="105.46" width="27.84" height="5.21" fill="#fca95e"/>
<rect x="344.85" y="105.46" width="14.07" height="5.21" fill="#fff7bd"/>
<rect x="358.62" y="105.46" width="27.84" height="5.21" fill="#b0122a"/>
<rect x="276.00" y="110.37" width="82.92" height="5.21" fill="#fca95e"/>
<rect x="358.62" y="110.37" width="27.84" height="5.21" fill="#fec679"/>
<rect x="276.00" y="115.29" width="82.92" height="5.21" fill="#fca95e"/>
<rect x="358.62" y="115.29" width="27.84" height="5.21" fill="#d52a25"/>
<rect x="276.00" y="120.20" width="82.92" height="5.21" fill="#fca95e"/>
<rect x="358.62" y="120.20" width="27.84" height="5.21" fill="#c41e2a"/>
<rect x="276.00" y="125.11" width="82.92" height="5.21" fill="#fca95e"/>
<rect x="358.62" y="125.11" width="27.84" height="5.21" fill="#f6864a"/>
<rect x="276.00" y="130.03" width="14.07" height="5.21" fill="#fec679"/>
<rect x="289.77" y="130.03" width="14.07" height="5.21" fill="#fca95e"/>
<rect x="303.54" y="130.03" width="14.07" height="5.21" fill="#fec679"/>
<rect x="317.31" y="130.03" width="27.84" height="5.21" fill="#fca95e"/>
<rect x="344.85" y="130.03" width="14.07" height="5.21" fill="#fec679"/>
<rect x="358.62" y="130.03" width="27.84" height="5.21" fill="#feeaa4"/>
<rect x="276.00" y="134.94" width="14.07" height="5.21" fill="#fec679"/>
<rect x="289.77" y="134.94" width="14.07" height="5.21" fill="#fca95e"/>
<rect x="303.54" y="134.94" width="14.07" height="5.21" fill="#fec679"/>
<rect x="317.31" y="134.94" width="27.84" height="5.21" fill="#fca95e"/>
<rect x="344.85" y="134.94" width="14.07" height="5.21" fill="#fec679"/>
<rect x="358.62" y="134.94" width="27.84" height="5.21" fill="#b0122a"/>
<rect x="276.00" y="139.85" width="14.07" height="5.21" fill="#fca95e"/>
<rect x="289.77" y="139.85" width="14.07" height="5.21" fill="#fec679"/>
<rect x="303.54" y="139.85" width="14.07" height="5.21" fill="#fedf92"/>
<rect x="317.31" y="139.85" width="14.07" height="5.21" fill="#fec679"/>
<rect x="331.08" y="139.85" width="14.07" height="5.21" fill="#fca95e"/>
<rect x="344.85" y="139.85" width="14.07" height="5.21" fill="#fedf92"/>
<rect x="358.62" y="139.85" width="14.07" height="5.21" fill="#d52a25"/>
<rect x="372.39" y="139.85" width="14.07" height="5.21" fill="#e95231"/>
<rect x="276.00" y="144.76" width="14.07" height="5.21" fill="#fec679"/>
<rect x="289.77" y="144.76" width="14.07" height="5.21" fill="#fca95e"/>
<rect x="303.54" y="144.76" width="14.07" height="5.21" fill="#fedf92"/>
<rect x="317.31" y="144.76" width="14.07" height="5.21" fill="#fec679"/>
<rect x="331.08" y="144.76" width="14.07" height="5.21" fill="#fca95e"/>
<rect x="344.85" y="144.76" width="14.07" height="5.21" fill="#fec679"/>
<rect x="358.62" y="144.76" width="27.84" height="5.21" fill="#e95231"/>
<rect x="276.00" y="149.68" width="14.07" height="5.21" fill="#fec679"/>
<rect x="289.77" y="149.68" width="14.07" height="5.21" fill="#fca95e"/>
<rect x="303.54" y="149.68" width="14.07" height="5.21" fill="#fedf92"/>
<rect x="317.31" y="149.68" width="27.84" height="5.21" fill="#fec679"/>
<rect x="344.85" y="149.68" width="14.07" height="5.21" fill="#fedf92"/>
<rect x="358.62" y="149.68" width="14.07" height="5.21" fill="#e95231"/>
<rect x="372.39" y="149.68" width="14.07" height="5.21" fill="#f6864a"/>
<rect x="276.00" y="154.59" width="27.84" height="5.21" fill="#fec679"/>
<rect x="303.54" y="154.59" width="27.84" height="5.21" fill="#fedf92"/>
<rect x="331.08" y="154.59" width="14.07" height="5.21" fill="#fec679"/>
<rect x="344.85" y="154.59" width="14.07" height="5.21" fill="#fedf92"/>
<rect x="358.62" y="154.59" width="27.84" height="5.21" fill="#de3829"/>
<rect x="276.00" y="159.50" width="14.07" height="5.21" fill="#feeaa4"/>
<rect x="289.77" y="159.50" width="14.07" height="5.21" fill="#fca95e"/>
<rect x="303.54" y="159.50" width="14.07" height="5.21" fill="#fff7bd"/>
<rect x="317.31" y="159.50" width="27.84" height="5.21" fill="#fedf92"/>
<rect x="344.85" y="159.50" width="14.07" height="5.21" fill="#c0e1ee"/>
<rect x="358.62" y="159.50" width="27.84" height="5.21" fill="#c41e2a"/>
<rect x="276.00" y="164.42" width="14.07" height="5.21" fill="#fedf92"/>
<rect x="289.77" y="164.42" width="14.07" height="5.21" fill="#fec679"/>
<rect x="303.54" y="164.42" width="55.38" height="5.21" fill="#fedf92"/>
<rect x="358.62" y="164.42" width="27.84" height="5.21" fill="#f6864a"/>
<rect x="276.00" y="169.33" width="82.92" height="5.21" fill="#fedf92"/>
<rect x="358.62" y="169.33" width="14.07" height="5.21" fill="#e0f2f6"/>
<rect x="372.39" y="169.33" width="14.07" height="5.21" fill="#c0e1ee"/>
<rect x="276.00" y="174.24" width="82.92" height="5.21" fill="#fedf92"/>
<rect x="358.62" y="174.24" width="27.84" height="5.21" fill="#f6864a"/>
<rect x="276.00" y="179.16" width="82.92" height="5.21" fill="#fedf92"/>
<rect x="358.62" y="179.16" width="14.07" height="5.21" fill="#3a52a6"/>
<rect x="372.39" y="179.16" width="14.07" height="5.21" fill="#6ea5d0"/>
<rect x="276.00" y="184.07" width="14.07" height="5.21" fill="#feeaa4"/>
<rect x="289.77" y="184.07" width="14.07" height="5.21" fill="#fec679"/>
<rect x="303.54" y="184.07" width="14.07" height="5.21" fill="#fff7bd"/>
<rect x="317.31" y="184.07" width="27.84" height="5.21" fill="#fedf92"/>
<rect x="344.85" y="184.07" width="14.07" height="5.21" fill="#fff7bd"/>
<rect x="358.62" y="184.07" width="27.84" height="5.21" fill="#e95231"/>
<rect x="276.00" y="188.98" width="14.07" height="5.21" fill="#fff7bd"/>
<rect x="289.77" y="188.98" width="14.07" height="5.21" fill="#fedf92"/>
<rect x="303.54" y="188.98" width="14.07" height="5.21" fill="#fff7bd"/>
<rect x="317.31" y="188.98" width="14.07" height="5.21" fill="#fedf92"/>
<rect x="331.08" y="188.98" width="14.07" height="5.21" fill="#feeaa4"/>
<rect x="344.85" y="188.98" width="14.07" height="5.21" fill="#f2f8dc"/>
<rect x="358.62" y="188.98" width="27.84" height="5.21" fill="#f6864a"/>
<rect x="276.00" y="193.89" width="14.07" height="5.21" fill="#fff7bd"/>
<rect x="289.77" y="193.89" width="14.07" height="5.21" fill="#fedf92"/>
<rect x="303.54" y="193.89" width="14.07" height="5.21" fill="#f2f8dc"/>
<rect x="317.31" y="193.89" width="14.07" height="5.21" fill="#fedf92"/>
<rect x="331.08" y="193.89" width="14.07" height="5.21" fill="#feeaa4"/>
<rect x="344.85" y="193.89" width="14.07" height="5.21" fill="#fff7bd"/>
<rect x="358.62" y="193.89" width="14.07" height="5.21" fill="#e95231"/>
<rect x="372.39" y="193.89" width="14.07" height="5.21" fill="#f6864a"/>
<rect x="276.00" y="198.81" width="14.07" height="5.21" fill="#fff7bd"/>
<rect x="289.77" y="198.81" width="14.07" height="5.21" fill="#feeaa4"/>
<rect x="303.54" y="198.81" width="14.07" height="5.21" fill="#fff7bd"/>
<rect x="317.31" y="198.81" width="27.84" height="5.21" fill="#feeaa4"/>
<rect x="344.85" y="198.81" width="14.07" height="5.21" fill="#fff7bd"/>
<rect x="358.62" y="198.81" width="27.84" height="5.21" fill="#fca95e"/>
<rect x="276.00" y="203.72" width="14.07" height="5.21" fill="#fff7bd"/>
<rect x="289.77" y="203.72" width="14.07" height="5.21" fill="#feeaa4"/>
<rect x="303.54" y="203.72" width="14.07" height="5.21" fill="#fff7bd"/>
<rect x="317.31" y="203.72" width="27.84" height="5.21" fill="#feeaa4"/>
<rect x="344.85" y="203.72" width="14.07" height="5.21" fill="#fff7bd"/>
<rect x="358.62" y="203.72" width="27.84" height="5.21" fill="#fca95e"/>
<rect x="276.00" y="208.63" width="14.07" height="5.21" fill="#e0f2f6"/>
<rect x="289.77" y="208.63" width="27.84" height="5.21" fill="#fff7bd"/>
<rect x="317.31" y="208.63" width="27.84" height="5.21" fill="#feeaa4"/>
<rect x="344.85" y="208.63" width="14.07" height="5.21" fill="#fff7bd"/>
<rect x="358.62" y="208.63" width="27.84" height="5.21" fill="#fca95e"/>
<rect x="276.00" y="213.55" width="41.61" height="5.21" fill="#fff7bd"/>
<rect x="317.31" y="213.55" width="14.07" height="5.21" fill="#feeaa4"/>
<rect x="331.08" y="213.55" width="14.07" height="5.21" fill="#fff7bd"/>
<rect x="344.85" y="213.55" width="14.07" height="5.21" fill="#f2f8dc"/>
<rect x="358.62" y="213.55" width="27.84" height="5.21" fill="#fec679"/>
<rect x="276.00" y="218.46" width="14.07" height="5.21" fill="#fff7bd"/>
<rect x="289.77" y="218.46" width="14.07" height="5.21" fill="#e0f2f6"/>
<rect x="303.54" y="218.46" width="14.07" height="5.21" fill="#fff7bd"/>
<rect x="317.31" y="218.46" width="14.07" height="5.21" fill="#a5d2e7"/>
<rect x="331.08" y="218.46" width="27.84" height="5.21" fill="#fff7bd"/>
<rect x="358.62" y="218.46" width="27.84" height="5.21" fill="#fec679"/>
<rect x="276.00" y="223.37" width="27.84" height="5.21" fill="#fff7bd"/>
<rect x="303.54" y="223.37" width="14.07" height="5.21" fill="#e0f2f6"/>
<rect x="317.31" y="223.37" width="14.07" height="5.21" fill="#fff7bd"/>
<rect x="331.08" y="223.37" width="27.84" height="5.21" fill="#2f3598"/>
<rect x="358.62" y="223.37" width="27.84" height="5.21" fill="#e95231"/>
<rect x="276.00" y="228.28" width="14.07" height="5.21" fill="#fff7bd"/>
<rect x="289.77" y="228.28" width="14.07" height="5.21" fill="#f2f8dc"/>
<rect x="303.54" y="228.28" width="41.61" height="5.21" fill="#fff7bd"/>
<rect x="344.85" y="228.28" width="14.07" height="5.21" fill="#e0f2f6"/>
<rect x="358.62" y="228.28" width="27.84" height="5.21" fill="#fedf92"/>
<rect x="276.00" y="233.20" width="14.07" height="5.21" fill="#fff7bd"/>
<rect x="289.77" y="233.20" width="14.07" height="5.21" fill="#f2f8dc"/>
<rect x="303.54" y="233.20" width="14.07" height="5.21" fill="#fff7bd"/>
<rect x="317.31" y="233.20" width="27.84" height="5.21" fill="#2f3598"/>
<rect x="344.85" y="233.20" width="14.07" height="5.21" fill="#f2f8dc"/>
<rect x="358.62" y="233.20" width="27.84" height="5.21" fill="#fedf92"/>
<rect x="276.00" y="238.11" width="14.07" height="5.21" fill="#a5d2e7"/>
<rect x="289.77" y="238.11" width="14.07" height="5.21" fill="#fff7bd"/>
<rect x="303.54" y="238.11" width="14.07" height="5.21" fill="#5789c2"/>
<rect x="317.31" y="238.11" width="14.07" height="5.21" fill="#e0f2f6"/>
<rect x="331.08" y="238.11" width="14.07" height="5.21" fill="#c0e1ee"/>
<rect x="344.85" y="238.11" width="14.07" height="5.21" fill="#5789c2"/>
<rect x="358.62" y="238.11" width="27.84" height="5.21" fill="#d52a25"/>
<rect x="276.00" y="243.02" width="14.07" height="5.21" fill="#fff7bd"/>
<rect x="289.77" y="243.02" width="27.84" height="5.21" fill="#8abcdc"/>
<rect x="317.31" y="243.02" width="14.07" height="5.21" fill="#6ea5d0"/>
<rect x="331.08" y="243.02" width="14.07" height="5.21" fill="#fff7bd"/>
<rect x="344.85" y="243.02" width="14.07" height="5.21" fill="#a5d2e7"/>
<rect x="358.62" y="243.02" width="14.07" height="5.21" fill="#d52a25"/>
<rect x="372.39" y="243.02" width="14.07" height="5.21" fill="#de3829"/>
<rect x="276.00" y="247.94" width="14.07" height="5.21" fill="#c0e1ee"/>
<rect x="289.77" y="247.94" width="14.07" height="5.21" fill="#e0f2f6"/>
<rect x="303.54" y="247.94" width="41.61" height="5.21" fill="#c0e1ee"/>
<rect x="344.85" y="247.94" width="14.07" height="5.21" fill="#a5d2e7"/>
<rect x="358.62" y="247.94" width="27.84" height="5.21" fill="#fedf92"/>
<rect x="276.00" y="252.85" width="14.07" height="5.21" fill="#c0e1ee"/>
<rect x="289.77" y="252.85" width="14.07" height="5.21" fill="#f2f8dc"/>
<rect x="303.54" y="252.85" width="14.07" height="5.21" fill="#c0e1ee"/>
<rect x="317.31" y="252.85" width="14.07" height="5.21" fill="#a5d2e7"/>
<rect x="331.08" y="252.85" width="14.07" height="5.21" fill="#e0f2f6"/>
<rect x="344.85" y="252.85" width="14.07" height="5.21" fill="#c0e1ee"/>
<rect x="358.62" y="252.85" width="27.84" height="5.21" fill="#fca95e"/>
<rect x="276.00" y="257.76" width="14.07" height="5.21" fill="#c0e1ee"/>
<rect x="289.77" y="257.76" width="14.07" height="5.21" fill="#8abcdc"/>
<rect x="303.54" y="257.76" width="55.38" height="5.21" fill="#c0e1ee"/>
<rect x="358.62" y="257.76" width="27.84" height="5.21" fill="#fedf92"/>
<rect x="276.00" y="262.68" width="14.07" height="5.21" fill="#8abcdc"/>
<rect x="289.77" y="262.68" width="14.07" height="5.21" fill="#f2f8dc"/>
<rect x="303.54" y="262.68" width="14.07" height="5.21" fill="#8abcdc"/>
<rect x="317.31" y="262.68" width="14.07" height="5.21" fill="#e0f2f6"/>
<rect x="331.08" y="262.68" width="14.07" height="5.21" fill="#c0e1ee"/>
<rect x="344.85" y="262.68" width="14.07" height="5.21" fill="#8abcdc"/>
<rect x="358.62" y="262.68" width="14.07" height="5.21" fill="#fec679"/>
<rect x="372.39" y="262.68" width="14.07" height="5.21" fill="#fedf92"/>
<rect x="276.00" y="267.59" width="27.84" height="5.21" fill="#c0e1ee"/>
<rect x="303.54" y="267.59" width="14.07" height="5.21" fill="#a5d2e7"/>
<rect x="317.31" y="267.59" width="14.07" height="5.21" fill="#c0e1ee"/>
<rect x="331.08" y="267.59" width="14.07" height="5.21" fill="#e0f2f6"/>
<rect x="344.85" y="267.59" width="14.07" height="5.21" fill="#c0e1ee"/>
<rect x="358.62" y="267.59" width="14.07" height="5.21" fill="#feeaa4"/>
<rect x="372.39" y="267.59" width="14.07" height="5.21" fill="#fff7bd"/>
<rect x="276.00" y="272.50" width="14.07" height="5.21" fill="#8abcdc"/>
<rect x="289.77" y="272.50" width="14.07" height="5.21" fill="#e0f2f6"/>
<rect x="303.54" y="272.50" width="14.07" height="5.21" fill="#a5d2e7"/>
<rect x="317.31" y="272.50" width="27.84" height="5.21" fill="#c0e1ee"/>
<rect x="344.85" y="272.50" width="14.07" height="5.21" fill="#a5d2e7"/>
<rect x="358.62" y="272.50" width="14.07" height="5.21" fill="#f6864a"/>
<rect x="372.39" y="272.50" width="14.07" height="5.21" fill="#fca95e"/>
<rect x="276.00" y="277.42" width="27.84" height="5.21" fill="#a5d2e7"/>
<rect x="303.54" y="277.42" width="14.07" height="5.21" fill="#8abcdc"/>
<rect x="317.31" y="277.42" width="41.61" height="5.21" fill="#a5d2e7"/>
<rect x="358.62" y="277.42" width="27.84" height="5.21" fill="#fff7bd"/>
<rect x="276.00" y="282.33" width="27.84" height="5.21" fill="#a5d2e7"/>
<rect x="303.54" y="282.33" width="14.07" height="5.21" fill="#8abcdc"/>
<rect x="317.31" y="282.33" width="14.07" height="5.21" fill="#a5d2e7"/>
<rect x="331.08" y="282.33" width="14.07" height="5.21" fill="#8abcdc"/>
<rect x="344.85" y="282.33" width="14.07" height="5.21" fill="#a5d2e7"/>
<rect x="358.62" y="282.33" width="27.84" height="5.21" fill="#fff7bd"/>
<rect x="276.00" y="287.24" width="27.84" height="5.21" fill="#a5d2e7"/>
<rect x="303.54" y="287.24" width="14.07" height="5.21" fill="#6ea5d0"/>
<rect x="317.31" y="287.24" width="41.61" height="5.21" fill="#a5d2e7"/>
<rect x="358.62" y="287.24" width="14.07" height="5.21" fill="#feeaa4"/>
<rect x="372.39" y="287.24" width="14.07" height="5.21" fill="#fedf92"/>
<rect x="276.00" y="292.15" width="41.61" height="5.21" fill="#a5d2e7"/>
<rect x="317.31" y="292.15" width="27.84" height="5.21" fill="#8abcdc"/>
<rect x="344.85" y="292.15" width="14.07" height="5.21" fill="#4573b5"/>
<rect x="358.62" y="292.15" width="14.07" height="5.21" fill="#feeaa4"/>
<rect x="372.39" y="292.15" width="14.07" height="5.21" fill="#fff7bd"/>
<rect x="276.00" y="297.07" width="14.07" height="5.21" fill="#8abcdc"/>
<rect x="289.77" y="297.07" width="14.07" height="5.21" fill="#a5d2e7"/>
<rect x="303.54" y="297.07" width="55.38" height="5.21" fill="#8abcdc"/>
<rect x="358.62" y="297.07" width="27.84" height="5.21" fill="#e0f2f6"/>
<rect x="276.00" y="301.98" width="41.61" height="5.21" fill="#6ea5d0"/>
<rect x="317.31" y="301.98" width="27.84" height="5.21" fill="#8abcdc"/>
<rect x="344.85" y="301.98" width="14.07" height="5.21" fill="#6ea5d0"/>
<rect x="358.62" y="301.98" width="14.07" height="5.21" fill="#f6864a"/>
<rect x="372.39" y="301.98" width="14.07" height="5.21" fill="#fca95e"/>
<rect x="276.00" y="306.89" width="14.07" height="5.21" fill="#8abcdc"/>
<rect x="289.77" y="306.89" width="14.07" height="5.21" fill="#e0f2f6"/>
<rect x="303.54" y="306.89" width="14.07" height="5.21" fill="#8abcdc"/>
<rect x="317.31" y="306.89" width="14.07" height="5.21" fill="#a5d2e7"/>
<rect x="331.08" y="306.89" width="14.07" height="5.21" fill="#2f3598"/>
<rect x="344.85" y="306.89" width="14.07" height="5.21" fill="#8abcdc"/>
<rect x="358.62" y="306.89" width="27.84" height="5.21" fill="#fca95e"/>
<rect x="276.00" y="311.81" width="14.07" height="5.21" fill="#8abcdc"/>
<rect x="289.77" y="311.81" width="14.07" height="5.21" fill="#2f3598"/>
<rect x="303.54" y="311.81" width="14.07" height="5.21" fill="#a5d2e7"/>
<rect x="317.31" y="311.81" width="14.07" height="5.21" fill="#8abcdc"/>
<rect x="331.08" y="311.81" width="14.07" height="5.21" fill="#2f3598"/>
<rect x="344.85" y="311.81" width="14.07" height="5.21" fill="#6ea5d0"/>
<rect x="358.62" y="311.81" width="14.07" height="5.21" fill="#f6864a"/>
<rect x="372.39" y="311.81" width="14.07" height="5.21" fill="#e95231"/>
<rect x="276.00" y="316.72" width="14.07" height="5.21" fill="#8abcdc"/>
<rect x="289.77" y="316.72" width="14.07" height="5.21" fill="#a5d2e7"/>
<rect x="303.54" y="316.72" width="14.07" height="5.21" fill="#6ea5d0"/>
<rect x="317.31" y="316.72" width="27.84" height="5.21" fill="#8abcdc"/>
<rect x="344.85" y="316.72" width="14.07" height="5.21" fill="#6ea5d0"/>
<rect x="358.62" y="316.72" width="27.84" height="5.21" fill="#f2f8dc"/>
<rect x="276.00" y="321.63" width="14.07" height="5.21" fill="#6ea5d0"/>
<rect x="289.77" y="321.63" width="14.07" height="5.21" fill="#a5d2e7"/>
<rect x="303.54" y="321.63" width="27.84" height="5.21" fill="#6ea5d0"/>
<rect x="331.08" y="321.63" width="14.07" height="5.21" fill="#8abcdc"/>
<rect x="344.85" y="321.63" width="14.07" height="5.21" fill="#6ea5d0"/>
<rect x="358.62" y="321.63" width="27.84" height="5.21" fill="#f2f8dc"/>
<rect x="276.00" y="326.55" width="14.07" height="5.21" fill="#8abcdc"/>
<rect x="289.77" y="326.55" width="69.15" height="5.21" fill="#6ea5d0"/>
<rect x="358.62" y="326.55" width="27.84" height="5.21" fill="#c0e1ee"/>
<rect x="276.00" y="331.46" width="14.07" height="5.21" fill="#6ea5d0"/>
<rect x="289.77" y="331.46" width="14.07" height="5.21" fill="#5789c2"/>
<rect x="303.54" y="331.46" width="55.38" height="5.21" fill="#6ea5d0"/>
<rect x="358.62" y="331.46" width="27.84" height="5.21" fill="#c0e1ee"/>
<rect x="276.00" y="336.37" width="82.92" height="5.21" fill="#6ea5d0"/>
<rect x="358.62" y="336.37" width="14.07" height="5.21" fill="#5789c2"/>
<rect x="372.39" y="336.37" width="14.07" height="5.21" fill="#4573b5"/>
<rect x="276.00" y="341.28" width="27.84" height="5.21" fill="#8abcdc"/>
<rect x="303.54" y="341.28" width="14.07" height="5.21" fill="#6ea5d0"/>
<rect x="317.31" y="341.28" width="27.84" height="5.21" fill="#2f3598"/>
<rect x="344.85" y="341.28" width="14.07" height="5.21" fill="#6ea5d0"/>
<rect x="358.62" y="341.28" width="27.84" height="5.21" fill="#f6864a"/>
<rect x="276.00" y="346.20" width="14.07" height="5.21" fill="#5789c2"/>
<rect x="289.77" y="346.20" width="14.07" height="5.21" fill="#2f3598"/>
<rect x="303.54" y="346.20" width="14.07" height="5.21" fill="#6ea5d0"/>
<rect x="317.31" y="346.20" width="14.07" height="5.21" fill="#8abcdc"/>
<rect x="331.08" y="346.20" width="14.07" height="5.21" fill="#2f3598"/>
<rect x="344.85" y="346.20" width="14.07" height="5.21" fill="#6ea5d0"/>
<rect x="358.62" y="346.20" width="27.84" height="5.21" fill="#de3829"/>
<rect x="276.00" y="351.11" width="14.07" height="5.21" fill="#8abcdc"/>
<rect x="289.77" y="351.11" width="14.07" height="5.21" fill="#2f3598"/>
<rect x="303.54" y="351.11" width="14.07" height="5.21" fill="#6ea5d0"/>
<rect x="317.31" y="351.11" width="14.07" height="5.21" fill="#8abcdc"/>
<rect x="331.08" y="351.11" width="14.07" height="5.21" fill="#a5d2e7"/>
<rect x="344.85" y="351.11" width="14.07" height="5.21" fill="#2f3598"/>
<rect x="358.62" y="351.11" width="27.84" height="5.21" fill="#de3829"/>
<rect x="276.00" y="356.02" width="14.07" height="5.21" fill="#2f3598"/>
<rect x="289.77" y="356.02" width="14.07" height="5.21" fill="#a5d2e7"/>
<rect x="303.54" y="356.02" width="14.07" height="5.21" fill="#6ea5d0"/>
<rect x="317.31" y="356.02" width="41.61" height="5.21" fill="#2f3598"/>
<rect x="358.62" y="356.02" width="14.07" height="5.21" fill="#f6864a"/>
<rect x="372.39" y="356.02" width="14.07" height="5.21" fill="#fca95e"/>
<rect x="276.00" y="360.94" width="55.38" height="5.21" fill="#6ea5d0"/>
<rect x="331.08" y="360.94" width="27.84" height="5.21" fill="#8abcdc"/>
<rect x="358.62" y="360.94" width="27.84" height="5.21" fill="#f2f8dc"/>
</g>
<g font-family="Liberation Sans, sans-serif" font-size="5" fill="#000" stroke="#000" stroke-width="0.18" transform="translate(388.2,0) matrix(1,0.003,0,1,0,0)">
<text x="0" y="11.41">TG 46:2|TG 12:0_16:0_18:2</text>
<text x="0" y="16.32">TG 38:0|TG 12:0_12:0_14:0</text>
<text x="0" y="21.23">TG 48:3|TG 12:0_18:1_18:2</text>
<text x="0" y="26.15">TG 40:0|TG 10:0_14:0_16:0</text>
<text x="0" y="31.06">TG 48:2|TG 12:0_18:1_18:1</text>
<text x="0" y="35.97">TG 54:6|TG 18:1_18:2_18:3</text>
<text x="0" y="40.88">TG 54:3|TG 18:1_18:1_18:1</text>
<text x="0" y="45.80">TG 50:3|TG 14:0_18:1_18:2</text>
<text x="0" y="50.71">TG 54:2|TG 18:0_18:1_18:1</text>
<text x="0" y="55.62">TG 34:0|TG 10:0_12:0_12:0</text>
<text x="0" y="60.54">PE 34:2|PE 16:0_18:2</text>
<text x="0" y="65.45">PE 34:1|PE 16:0_18:1</text>
<text x="0" y="70.36">TG 50:5|TG 14:0_18:2_18:3</text>
<text x="0" y="75.28">PI 36:1|PI 18:0_18:1</text>
<text x="0" y="80.19">SM 40:1;2O|SM 25:1;2O/15:0</text>
<text x="0" y="85.10">PI 36:3|PI 18:1_18:2</text>
<text x="0" y="90.01">PE 36:4|PE 18:2_18:2</text>
<text x="0" y="94.93">PI 34:1|PI 16:0_18:1</text>
<text x="0" y="99.84">TG 58:2|TG 16:0_18:1_24:1</text>
<text x="0" y="104.75">LPC 18:2</text>
<text x="0" y="109.67">TG 32:0|TG 10:0_10:0_12:0</text>
<text x="0" y="114.58">TG 52:6|TG 16:0_18:3_18:3</text>
<text x="0" y="119.49">PE 36:2|PE 18:1_18:1</text>
<text x="0" y="124.41">TG 40:0|TG 12:0_14:0_14:0</text>
<text x="0" y="129.32">TG 54:5|TG 18:1_18:2_18:2</text>
<text x="0" y="134.23">PG 35:0|PG 17:0_18:0</text>
<text x="0" y="139.14">PI 34:2|PI 16:0_18:2</text>
<text x="0" y="144.06">LPC 16:0</text>
<text x="0" y="148.97">TG 60:2|TG 24:0_18:1_18:1</text>
<text x="0" y="153.88">TG 60:2|TG 16:0_18:1_26:1</text>
<text x="0" y="158.80">PE 34:3|PE 16:0_18:3</text>
<text x="0" y="163.71">TG 30:0|TG 8:0_10:0_12:0</text>
<text x="0" y="168.62">TG 37:0|TG 10:0_12:0_15:0</text>
<text x="0" y="173.54">PG 33:0|PG 16:0_17:0</text>
<text x="0" y="178.45">TG 54:8|TG 18:2_18:3_18:3</text>
<text x="0" y="183.36">Cer 42:6;2O|Cer 20:2;2O/22:6</text>
<text x="0" y="188.27">PI 32:1|PI 14:0_18:1</text>
<text x="0" y="193.19">TG 34:0|TG 8:0_8:0_18:0</text>
<text x="0" y="198.10">PE 30:1|PE 16:0_14:1</text>
<text x="0" y="203.01">PS 34:0|PS 16:0_18:0</text>
<text x="0" y="207.93">PE 40:1|PE 22:0_18:1</text>
<text x="0" y="212.84">PE 42:1|PE 24:0_18:1</text>
<text x="0" y="217.75">TG 59:2|TG 23:0_18:1_18:1</text>
<text x="0" y="222.67">LPC 18:3</text>
<text x="0" y="227.58">PE 36:5|PE 18:2_18:3</text>
<text x="0" y="232.49">TG 59:3|TG 23:0_18:1_18:2</text>
<text x="0" y="237.40">TG 54:9|TG 18:3_18:3_18:3</text>
<text x="0" y="242.32">PI 34:3|PI 16:0_18:3</text>
<text x="0" y="247.23">TG 28:0|TG 8:0_8:0_12:0</text>
<text x="0" y="252.14">TG 61:2|TG 25:0_18:1_18:1</text>
<text x="0" y="257.06">TG 30:0|TG 8:0_8:0_14:0</text>
<text x="0" y="261.97">TG 59:1|TG 18:0_23:0_18:1</text>
<text x="0" y="266.88">TG 30:1|TG 8:0_8:0_14:1</text>
<text x="0" y="271.80">TG 54:6|TG 18:2_18:2_18:2</text>
<text x="0" y="276.71">TG 26:0|TG 8:0_8:0_10:0</text>
<text x="0" y="281.62">TG 51:6|TG 15:1_18:2_18:3</text>
<text x="0" y="286.53">TG 62:13|TG 18:1_22:6_22:6</text>
<text x="0" y="291.45">TG 60:13|TG 16:1_22:6_22:6</text>
<text x="0" y="296.36">MG 36:6</text>
<text x="0" y="301.27">TG 62:8|TG 22:0_20:4_20:4</text>
<text x="0" y="306.19">PA 34:3|PA 16:0_18:3</text>
<text x="0" y="311.10">TG 58:12|TG 14:0_22:6_22:6</text>
<text x="0" y="316.01">PA 34:1|PA 16:0_18:1</text>
<text x="0" y="320.93">TG 54:7|TG 18:2_18:2_18:3</text>
<text x="0" y="325.84">TG 64:8|TG 24:0_20:4_20:4</text>
<text x="0" y="330.75">PC 30:0|PC 14:0_16:0</text>
<text x="0" y="335.66">MG 38:7</text>
<text x="0" y="340.58">MG 30:8</text>
<text x="0" y="345.49">PA 36:5|PA 18:2_18:3</text>
<text x="0" y="350.40">PI 36:4|PI 18:2_18:2</text>
<text x="0" y="355.32">PA 36:3|PA 18:1_18:2</text>
<text x="0" y="360.23">PI 36:5|PI 18:2_18:3</text>
<text x="0" y="365.14">PC 36:4|PC 18:2_18:2</text>
</g>
<g font-family="Liberation Sans, sans-serif" font-size="4.9" fill="#000" stroke="#000" stroke-width="0.15" text-anchor="end">
<text transform="translate(285.19,370.25) rotate(-45)">HM1</text>
<text transform="translate(298.95,370.25) rotate(-45)">HM2</text>
<text transform="translate(312.73,370.25) rotate(-45)">HM3</text>
<text transform="translate(326.50,370.25) rotate(-45)">HM4</text>
<text transform="translate(340.26,370.25) rotate(-45)">HM5</text>
<text transform="translate(354.04,370.25) rotate(-45)">HM6</text>
<text transform="translate(367.81,370.25) rotate(-45)">IF2-1</text>
<text transform="translate(381.57,370.25) rotate(-45)">IF2-2</text>
</g>
<rect x="222.1" y="7.1" width="4.9" height="61.2" fill="url(#cb)"/>
<g font-family="Liberation Sans, sans-serif" font-size="4.7" fill="#000" stroke="#000" stroke-width="0.12">
<text x="228.6" y="19.1">0</text>
<text x="228.6" y="29.8">-1</text>
<text x="228.6" y="40.6">-2</text>
<text x="228.6" y="51.2">-3</text>
<text x="228.6" y="61.8">-4</text>
</g>
<rect x="458.3" y="7.3" width="4.7" height="61.2" fill="url(#cb)"/>
<g font-family="Liberation Sans, sans-serif" font-size="4.7" fill="#000" stroke="#000" stroke-width="0.12">
<text x="464.6" y="10.7">1</text>
<text x="464.6" y="20.6">0</text>
<text x="464.6" y="30.8">-1</text>
<text x="464.6" y="41.6">-2</text>
<text x="464.6" y="51.8">-3</text>
<text x="464.6" y="62.1">-4</text>
</g>
<g font-family="Liberation Serif, serif" font-weight="bold" font-size="13.8" fill="#000">
<text x="7.4" y="18.9">(C)</text>
<text x="245.7" y="18.9">(D)</text>
<text x="8.2" y="397.8">(E)</text>
<text x="247.0" y="397.8">(F)</text>
</g>
<rect x="7.0" y="383.5" width="229.4" height="143.7" fill="none" stroke="#a6bde7" stroke-width="1.2"/>
<rect x="246.5" y="383.5" width="221.6" height="143.7" fill="none" stroke="#a6bde7" stroke-width="1.2"/>
<g stroke="#bdbdbd" stroke-width="0.4" fill="none" stroke-dasharray="0.6 0.6">
<line x1="102.3" y1="455.0" x2="128.6" y2="436.9"/>
<line x1="102.3" y1="455.0" x2="170.9" y2="446.6"/>
<line x1="102.3" y1="455.0" x2="182.2" y2="487.9"/>
<line x1="102.3" y1="455.0" x2="151.5" y2="518.6"/>
<line x1="102.3" y1="455.0" x2="109.6" y2="507.8"/>
<line x1="98.0" y1="465.9" x2="140.3" y2="433.8"/>
<line x1="98.0" y1="465.9" x2="177.9" y2="455.4"/>
<line x1="98.0" y1="465.9" x2="178.0" y2="498.5"/>
<line x1="98.0" y1="465.9" x2="140.3" y2="520.5"/>
<line x1="98.0" y1="465.9" x2="102.8" y2="498.6"/>
<line x1="109.7" y1="446.8" x2="151.4" y2="435.1"/>
<line x1="109.7" y1="446.8" x2="182.2" y2="466.0"/>
<line x1="109.7" y1="446.8" x2="170.9" y2="507.4"/>
<line x1="109.7" y1="446.8" x2="129.3" y2="518.6"/>
<line x1="109.7" y1="446.8" x2="98.2" y2="488.2"/>
<line x1="118.3" y1="439.5" x2="162.0" y2="439.6"/>
<line x1="118.3" y1="439.5" x2="185.0" y2="476.0"/>
<line x1="118.3" y1="439.5" x2="162.1" y2="514.8"/>
<line x1="118.3" y1="439.5" x2="118.2" y2="514.8"/>
<line x1="118.3" y1="439.5" x2="96.4" y2="477.4"/>
<line x1="128.6" y1="436.9" x2="170.9" y2="446.6"/>
<line x1="128.6" y1="436.9" x2="182.2" y2="487.9"/>
<line x1="128.6" y1="436.9" x2="151.5" y2="518.6"/>
<line x1="128.6" y1="436.9" x2="109.6" y2="507.8"/>
<line x1="140.3" y1="433.8" x2="177.9" y2="455.4"/>
<line x1="140.3" y1="433.8" x2="178.0" y2="498.5"/>
<line x1="140.3" y1="433.8" x2="140.3" y2="520.5"/>
<line x1="140.3" y1="433.8" x2="102.8" y2="498.6"/>
<line x1="151.4" y1="435.1" x2="182.2" y2="466.0"/>
<line x1="151.4" y1="435.1" x2="170.9" y2="507.4"/>
<line x1="151.4" y1="435.1" x2="129.3" y2="518.6"/>
<line x1="151.4" y1="435.1" x2="98.2" y2="488.2"/>
<line x1="162.0" y1="439.6" x2="185.0" y2="476.0"/>
<line x1="162.0" y1="439.6" x2="162.1" y2="514.8"/>
<line x1="162.0" y1="439.6" x2="118.2" y2="514.8"/>
<line x1="162.0" y1="439.6" x2="96.4" y2="477.4"/>
<line x1="170.9" y1="446.6" x2="182.2" y2="487.9"/>
<line x1="170.9" y1="446.6" x2="151.5" y2="518.6"/>
<line x1="170.9" y1="446.6" x2="109.6" y2="507.8"/>
<line x1="177.9" y1="455.4" x2="178.0" y2="498.5"/>
<line x1="177.9" y1="455.4" x2="140.3" y2="520.5"/>
<line x1="177.9" y1="455.4" x2="102.8" y2="498.6"/>
<line x1="182.2" y1="466.0" x2="170.9" y2="507.4"/>
<line x1="182.2" y1="466.0" x2="129.3" y2="518.6"/>
<line x1="182.2" y1="466.0" x2="98.2" y2="488.2"/>
<line x1="185.0" y1="476.0" x2="162.1" y2="514.8"/>
<line x1="185.0" y1="476.0" x2="118.2" y2="514.8"/>
<line x1="185.0" y1="476.0" x2="96.4" y2="477.4"/>
<line x1="182.2" y1="487.9" x2="151.5" y2="518.6"/>
<line x1="182.2" y1="487.9" x2="109.6" y2="507.8"/>
<line x1="178.0" y1="498.5" x2="140.3" y2="520.5"/>
<line x1="178.0" y1="498.5" x2="102.8" y2="498.6"/>
<line x1="170.9" y1="507.4" x2="129.3" y2="518.6"/>
<line x1="170.9" y1="507.4" x2="98.2" y2="488.2"/>
<line x1="162.1" y1="514.8" x2="118.2" y2="514.8"/>
<line x1="162.1" y1="514.8" x2="96.4" y2="477.4"/>
<line x1="151.5" y1="518.6" x2="109.6" y2="507.8"/>
<line x1="140.3" y1="520.5" x2="102.8" y2="498.6"/>
<line x1="129.3" y1="518.6" x2="98.2" y2="488.2"/>
<line x1="118.2" y1="514.8" x2="96.4" y2="477.4"/>
</g>
<g stroke="#d4d4d4" stroke-width="0.5" fill="none">
<line x1="16.1" y1="422.7" x2="42.0" y2="421.7"/>
<line x1="38.1" y1="430.8" x2="51.6" y2="443.0"/>
<line x1="13.0" y1="438.5" x2="51.6" y2="443.0"/>
<line x1="16.1" y1="422.7" x2="38.1" y2="430.8"/>
<line x1="51.6" y1="443.0" x2="77.9" y2="418.4"/>
<line x1="71.8" y1="460.2" x2="71.6" y2="480.7"/>
<line x1="128.9" y1="390.1" x2="153.1" y2="398.2"/>
<line x1="144.2" y1="425.7" x2="160.4" y2="418.5"/>
<line x1="199.0" y1="424.4" x2="192.3" y2="436.5"/>
<line x1="216.0" y1="394.7" x2="207.1" y2="409.8"/>
<line x1="194.0" y1="450.8" x2="194.3" y2="467.6"/>
<line x1="207.4" y1="458.6" x2="224.5" y2="472.5"/>
<line x1="209.3" y1="442.6" x2="226.6" y2="450.4"/>
</g>
<g stroke="#707070" stroke-width="0.45" fill="none">
<line x1="42.0" y1="421.7" x2="38.1" y2="430.8"/>
<line x1="13.0" y1="438.5" x2="29.0" y2="449.4"/>
<line x1="110.6" y1="420.6" x2="109.7" y2="446.8"/>
<line x1="179.3" y1="405.5" x2="163.9" y2="427.9"/>
<line x1="179.3" y1="405.5" x2="192.3" y2="436.5"/>
<line x1="190.4" y1="424.4" x2="192.3" y2="436.5"/>
</g>
<g stroke="#3c3c3c" stroke-width="0.55" fill="none">
<line x1="43.8" y1="390.6" x2="61.7" y2="400.4"/>
<line x1="43.8" y1="390.6" x2="44.1" y2="408.2"/>
<line x1="61.7" y1="400.4" x2="44.1" y2="408.2"/>
<line x1="44.1" y1="408.2" x2="42.0" y2="421.7"/>
<line x1="38.1" y1="430.8" x2="13.0" y2="438.5"/>
<line x1="38.1" y1="430.8" x2="29.0" y2="449.4"/>
<line x1="77.2" y1="395.0" x2="77.9" y2="418.4"/>
<line x1="99.3" y1="391.9" x2="77.9" y2="418.4"/>
<line x1="99.3" y1="391.9" x2="79.9" y2="443.1"/>
<line x1="99.3" y1="391.9" x2="110.6" y2="420.6"/>
<line x1="77.9" y1="418.4" x2="79.9" y2="443.1"/>
<line x1="110.6" y1="420.6" x2="79.9" y2="443.1"/>
<line x1="77.9" y1="418.4" x2="102.3" y2="455.0"/>
<line x1="77.9" y1="418.4" x2="98.0" y2="465.9"/>
<line x1="110.6" y1="420.6" x2="102.3" y2="455.0"/>
<line x1="77.2" y1="395.0" x2="110.6" y2="420.6"/>
<line x1="79.9" y1="443.1" x2="102.3" y2="455.0"/>
<line x1="79.9" y1="443.1" x2="98.0" y2="465.9"/>
<line x1="99.3" y1="391.9" x2="98.0" y2="465.9"/>
<line x1="22.3" y1="462.0" x2="21.8" y2="482.8"/>
<line x1="38.9" y1="459.5" x2="38.9" y2="482.0"/>
<line x1="54.7" y1="460.2" x2="54.7" y2="481.5"/>
<line x1="128.1" y1="409.8" x2="153.1" y2="398.2"/>
<line x1="147.2" y1="410.4" x2="160.4" y2="418.5"/>
<line x1="163.9" y1="427.9" x2="192.3" y2="436.5"/>
<line x1="209.3" y1="442.6" x2="194.3" y2="467.6"/>
<line x1="226.6" y1="450.4" x2="224.5" y2="472.5"/>
<line x1="185.0" y1="476.0" x2="196.5" y2="482.8"/>
<line x1="151.5" y1="518.6" x2="102.3" y2="455.0"/>
<line x1="151.5" y1="518.6" x2="118.3" y2="439.5"/>
<line x1="151.5" y1="518.6" x2="140.3" y2="433.8"/>
<line x1="151.5" y1="518.6" x2="151.4" y2="435.1"/>
<line x1="151.5" y1="518.6" x2="162.0" y2="439.6"/>
<line x1="151.5" y1="518.6" x2="170.9" y2="446.6"/>
<line x1="151.5" y1="518.6" x2="182.2" y2="466.0"/>
<line x1="118.2" y1="514.8" x2="118.3" y2="439.5"/>
<line x1="118.2" y1="514.8" x2="102.3" y2="455.0"/>
<line x1="118.2" y1="514.8" x2="98.0" y2="465.9"/>
<line x1="118.2" y1="514.8" x2="182.2" y2="466.0"/>
<line x1="118.2" y1="514.8" x2="185.0" y2="476.0"/>
<line x1="182.2" y1="466.0" x2="98.0" y2="465.9"/>
<line x1="182.2" y1="466.0" x2="102.3" y2="455.0"/>
<line x1="182.2" y1="466.0" x2="109.7" y2="446.8"/>
<line x1="182.2" y1="466.0" x2="118.3" y2="439.5"/>
<line x1="182.2" y1="466.0" x2="162.1" y2="514.8"/>
<line x1="182.2" y1="466.0" x2="170.9" y2="507.4"/>
<line x1="182.2" y1="466.0" x2="178.0" y2="498.5"/>
<line x1="182.2" y1="466.0" x2="182.2" y2="487.9"/>
<line x1="185.0" y1="476.0" x2="98.0" y2="465.9"/>
<line x1="162.0" y1="439.6" x2="162.1" y2="514.8"/>
<line x1="118.3" y1="439.5" x2="162.0" y2="439.6"/>
<line x1="109.7" y1="446.8" x2="162.0" y2="439.6"/>
<line x1="118.3" y1="439.5" x2="170.9" y2="446.6"/>
<line x1="140.3" y1="433.8" x2="177.9" y2="455.4"/>
<line x1="102.3" y1="455.0" x2="109.7" y2="446.8"/>
<line x1="109.7" y1="446.8" x2="118.3" y2="439.5"/>
<line x1="118.3" y1="439.5" x2="128.6" y2="436.9"/>
<line x1="102.3" y1="455.0" x2="118.3" y2="439.5"/>
<line x1="102.3" y1="455.0" x2="128.6" y2="436.9"/>
<line x1="98.0" y1="465.9" x2="118.3" y2="439.5"/>
<line x1="98.0" y1="465.9" x2="109.7" y2="446.8"/>
<line x1="102.3" y1="455.0" x2="98.0" y2="465.9"/>
<line x1="128.6" y1="436.9" x2="140.3" y2="433.8"/>
<line x1="140.3" y1="433.8" x2="151.4" y2="435.1"/>
<line x1="162.0" y1="439.6" x2="170.9" y2="446.6"/>
<line x1="170.9" y1="446.6" x2="177.9" y2="455.4"/>
<line x1="177.9" y1="455.4" x2="182.2" y2="466.0"/>
<line x1="182.2" y1="466.0" x2="185.0" y2="476.0"/>
<line x1="185.0" y1="476.0" x2="182.2" y2="487.9"/>
<line x1="182.2" y1="487.9" x2="178.0" y2="498.5"/>
<line x1="178.0" y1="498.5" x2="170.9" y2="507.4"/>
<line x1="98.0" y1="465.9" x2="96.4" y2="477.4"/>
<line x1="96.4" y1="477.4" x2="98.2" y2="488.2"/>
<line x1="98.2" y1="488.2" x2="102.8" y2="498.6"/>
<line x1="102.8" y1="498.6" x2="109.6" y2="507.8"/>
<line x1="96.4" y1="477.4" x2="102.8" y2="498.6"/>
<line x1="98.2" y1="488.2" x2="109.6" y2="507.8"/>
<line x1="109.6" y1="507.8" x2="118.2" y2="514.8"/>
<line x1="177.9" y1="455.4" x2="170.9" y2="507.4"/>
<line x1="170.9" y1="446.6" x2="162.1" y2="514.8"/>
</g>
<circle cx="43.8" cy="390.6" r="3.1" fill="#5aa2d3"/>
<circle cx="61.7" cy="400.4" r="3.4" fill="#f4593b"/>
<circle cx="44.1" cy="408.2" r="3.1" fill="#fbc38e"/>
<circle cx="42.0" cy="421.7" r="2.8" fill="#fbc38e"/>
<circle cx="16.1" cy="422.7" r="3.0" fill="#b5b1dd"/>
<circle cx="38.1" cy="430.8" r="3.4" fill="#fbc38e"/>
<circle cx="13.0" cy="438.5" r="3.5" fill="#f4593b"/>
<circle cx="29.0" cy="449.4" r="3.6" fill="#f4593b"/>
<circle cx="51.6" cy="443.0" r="3.4" fill="#f4593b"/>
<circle cx="77.2" cy="395.0" r="3.5" fill="#f4593b"/>
<circle cx="99.3" cy="391.9" r="3.2" fill="#fbc38e"/>
<circle cx="77.9" cy="418.4" r="3.5" fill="#f4593b"/>
<circle cx="110.6" cy="420.6" r="3.5" fill="#f4593b"/>
<circle cx="79.9" cy="443.1" r="3.6" fill="#f4593b"/>
<circle cx="22.3" cy="462.0" r="5.7" fill="#f4593b"/>
<circle cx="21.8" cy="482.8" r="3.0" fill="#fbc38e"/>
<circle cx="38.9" cy="459.5" r="3.4" fill="#f4593b"/>
<circle cx="38.9" cy="482.0" r="3.4" fill="#5aa2d3"/>
<circle cx="54.7" cy="460.2" r="3.4" fill="#f4593b"/>
<circle cx="54.7" cy="481.5" r="3.4" fill="#f98a35"/>
<circle cx="71.8" cy="460.2" r="5.5" fill="#f4593b"/>
<circle cx="71.6" cy="480.7" r="3.2" fill="#5aa2d3"/>
<circle cx="102.3" cy="455.0" r="4.0" fill="#f4593b"/>
<circle cx="98.0" cy="465.9" r="5.0" fill="#f4593b"/>
<circle cx="109.7" cy="446.8" r="3.2" fill="#f59ab8"/>
<circle cx="118.3" cy="439.5" r="3.6" fill="#f4593b"/>
<circle cx="128.6" cy="436.9" r="3.2" fill="#fbc38e"/>
<circle cx="140.3" cy="433.8" r="3.6" fill="#f4593b"/>
<circle cx="151.4" cy="435.1" r="3.6" fill="#f4593b"/>
<circle cx="162.0" cy="439.6" r="3.6" fill="#f4593b"/>
<circle cx="170.9" cy="446.6" r="3.4" fill="#f4593b"/>
<circle cx="177.9" cy="455.4" r="3.4" fill="#f4593b"/>
<circle cx="182.2" cy="466.0" r="3.4" fill="#fba55c"/>
<circle cx="185.0" cy="476.0" r="3.5" fill="#f4593b"/>
<circle cx="182.2" cy="487.9" r="3.3" fill="#fbc38e"/>
<circle cx="178.0" cy="498.5" r="3.8" fill="#9ccbe5"/>
<circle cx="170.9" cy="507.4" r="5.0" fill="#f4593b"/>
<circle cx="162.1" cy="514.8" r="3.4" fill="#fbc38e"/>
<circle cx="151.5" cy="518.6" r="3.2" fill="#f59ab8"/>
<circle cx="140.3" cy="520.5" r="4.5" fill="#9ccbe5"/>
<circle cx="129.3" cy="518.6" r="4.0" fill="#9ccbe5"/>
<circle cx="118.2" cy="514.8" r="3.2" fill="#b5b1dd"/>
<circle cx="109.6" cy="507.8" r="3.0" fill="#a3dd86"/>
<circle cx="102.8" cy="498.6" r="3.0" fill="#a3dd86"/>
<circle cx="98.2" cy="488.2" r="3.0" fill="#a3dd86"/>
<circle cx="96.4" cy="477.4" r="3.4" fill="#b5b1dd"/>
<circle cx="128.9" cy="390.1" r="5.5" fill="#f4593b"/>
<circle cx="153.1" cy="398.2" r="3.6" fill="#f4593b"/>
<circle cx="128.1" cy="409.8" r="5.0" fill="#f4593b"/>
<circle cx="147.2" cy="410.4" r="3.2" fill="#c6d9f0"/>
<circle cx="160.4" cy="418.5" r="3.5" fill="#f4593b"/>
<circle cx="144.2" cy="425.7" r="3.2" fill="#f4593b"/>
<circle cx="179.3" cy="405.5" r="3.4" fill="#a3dd86"/>
<circle cx="163.9" cy="427.9" r="3.4" fill="#a3dd86"/>
<circle cx="190.4" cy="424.4" r="3.6" fill="#f4593b"/>
<circle cx="199.0" cy="424.4" r="5.0" fill="#f4593b"/>
<circle cx="192.3" cy="436.5" r="3.6" fill="#f4593b"/>
<circle cx="216.0" cy="394.7" r="3.5" fill="#f4593b"/>
<circle cx="207.1" cy="409.8" r="3.5" fill="#f4593b"/>
<circle cx="209.3" cy="442.6" r="4.8" fill="#f4593b"/>
<circle cx="194.0" cy="450.8" r="3.9" fill="#f4593b"/>
<circle cx="226.6" cy="450.4" r="3.4" fill="#f4593b"/>
<circle cx="207.4" cy="458.6" r="4.4" fill="#f4593b"/>
<circle cx="194.3" cy="467.6" r="3.9" fill="#f4593b"/>
<circle cx="224.5" cy="472.5" r="3.5" fill="#f4593b"/>
<circle cx="196.5" cy="482.8" r="3.6" fill="#f4593b"/>
<g font-family="Liberation Sans, sans-serif" font-size="2.4" fill="#111" stroke="#111" stroke-width="0.08" text-anchor="middle">
<text x="43.8" y="391.46">PE 36:5</text>
<text x="61.7" y="401.26">TG 39:2</text>
<text x="44.1" y="409.06">MG 36:6</text>
<text x="42.0" y="422.56">MG 36:9</text>
<text x="16.1" y="423.56">LPC 18:3</text>
<text x="38.1" y="431.66">MG 38:7</text>
<text x="13.0" y="439.36">TG 54:9</text>
<text x="29.0" y="450.26">TG 54:8</text>
<text x="51.6" y="443.86">TG 54:7</text>
<text x="77.2" y="395.86">TG 36:1</text>
<text x="99.3" y="392.76">MG 30:8</text>
<text x="77.9" y="419.26">TG 38:1</text>
<text x="110.6" y="421.46">TG 36:2</text>
<text x="79.9" y="443.96">TG 38:2</text>
<text x="22.3" y="462.86">TG 46:2</text>
<text x="21.8" y="483.66">MG 28:1</text>
<text x="38.9" y="460.36">TG 45:0</text>
<text x="38.9" y="482.86">PE 40:1</text>
<text x="54.7" y="461.06">TG 41:0</text>
<text x="54.7" y="482.36">PI 30:0</text>
<text x="71.8" y="461.06">TG 48:3</text>
<text x="71.6" y="481.56">PE 30:1</text>
<text x="102.3" y="455.86">TG 34:0</text>
<text x="98.0" y="466.76">TG 38:0</text>
<text x="109.7" y="447.66">PA 34:2</text>
<text x="118.3" y="440.36">TG 32:0</text>
<text x="128.6" y="437.76">MG 26:1</text>
<text x="140.3" y="434.66">TG 30:0</text>
<text x="151.4" y="435.96">TG 28:0</text>
<text x="162.0" y="440.46">TG 26:0</text>
<text x="170.9" y="447.46">TG 30:1</text>
<text x="177.9" y="456.26">TG 32:1</text>
<text x="182.2" y="466.86">MG 18:1</text>
<text x="185.0" y="476.86">TG 34:0</text>
<text x="182.2" y="488.76">MG 18:2</text>
<text x="178.0" y="499.36">LPE 18:2</text>
<text x="170.9" y="508.26">TG 54:6</text>
<text x="162.1" y="515.66">MG 18:3</text>
<text x="151.5" y="519.46">PA 36:5</text>
<text x="140.3" y="521.36">LPE 18:1</text>
<text x="129.3" y="519.46">LPE 16:0</text>
<text x="118.2" y="515.66">LPC 16:0</text>
<text x="109.6" y="508.66">Cer 39:1</text>
<text x="102.8" y="499.46">Cer 39:1</text>
<text x="98.2" y="489.06">Cer 38:0</text>
<text x="96.4" y="478.26">LPC 18:2</text>
<text x="128.9" y="390.96">TG 48:2</text>
<text x="153.1" y="399.06">TG 54:5</text>
<text x="128.1" y="410.66">TG 50:3</text>
<text x="147.2" y="411.26">PC 36:4</text>
<text x="160.4" y="419.36">TG 52:7</text>
<text x="144.2" y="426.56">TG 37:0</text>
<text x="179.3" y="406.36">Cer 39:0</text>
<text x="163.9" y="428.76">Cer 42:6</text>
<text x="190.4" y="425.26">TG 58:6</text>
<text x="199.0" y="425.26">TG 56:4</text>
<text x="192.3" y="437.36">TG 64:8</text>
<text x="216.0" y="395.56">TG 54:6</text>
<text x="207.1" y="410.66">TG 52:5</text>
<text x="209.3" y="443.46">TG 50:5</text>
<text x="194.0" y="451.66">TG 50:6</text>
<text x="226.6" y="451.26">TG 62:8</text>
<text x="207.4" y="459.46">TG 60:13</text>
<text x="194.3" y="468.46">TG 58:12</text>
<text x="224.5" y="473.36">TG 39:0</text>
<text x="196.5" y="483.66">TG 32:1</text>
</g>
<g stroke="#bdbdbd" stroke-width="0.4" fill="none" stroke-dasharray="0.6 0.6">
</g>
<g stroke="#d4d4d4" stroke-width="0.5" fill="none">
<line x1="267.0" y1="452.3" x2="281.2" y2="403.5"/>
<line x1="267.0" y1="452.3" x2="307.3" y2="416.2"/>
<line x1="267.0" y1="452.3" x2="311.5" y2="431.5"/>
<line x1="267.0" y1="452.3" x2="295.8" y2="407.0"/>
<line x1="281.2" y1="403.5" x2="295.8" y2="407.0"/>
<line x1="259.0" y1="422.6" x2="281.0" y2="458.7"/>
<line x1="267.4" y1="410.4" x2="295.8" y2="407.0"/>
<line x1="311.5" y1="431.5" x2="295.8" y2="456.5"/>
<line x1="264.5" y1="467.6" x2="305.0" y2="467.6"/>
<line x1="305.0" y1="467.6" x2="285.0" y2="473.2"/>
<line x1="330.3" y1="452.3" x2="348.1" y2="462.1"/>
<line x1="342.3" y1="488.6" x2="351.8" y2="504.2"/>
<line x1="348.1" y1="462.1" x2="369.5" y2="452.1"/>
<line x1="375.6" y1="440.0" x2="369.5" y2="452.1"/>
<line x1="375.9" y1="465.9" x2="400.4" y2="462.4"/>
<line x1="451.3" y1="451.8" x2="444.0" y2="464.6"/>
<line x1="443.7" y1="438.2" x2="451.3" y2="451.8"/>
<line x1="370.9" y1="479.5" x2="385.7" y2="482.4"/>
<line x1="425.3" y1="487.5" x2="436.6" y2="477.1"/>
<line x1="425.0" y1="503.0" x2="456.7" y2="506.4"/>
<line x1="343.4" y1="397.8" x2="330.0" y2="403.5"/>
<line x1="330.0" y1="403.5" x2="323.8" y2="417.7"/>
<line x1="363.3" y1="418.0" x2="357.5" y2="432.0"/>
<line x1="357.5" y1="403.6" x2="363.3" y2="418.0"/>
</g>
<g stroke="#707070" stroke-width="0.45" fill="none">
<line x1="375.6" y1="440.0" x2="390.7" y2="440.0"/>
<line x1="422.2" y1="451.8" x2="443.7" y2="438.2"/>
<line x1="422.2" y1="451.8" x2="429.0" y2="438.3"/>
</g>
<g stroke="#3c3c3c" stroke-width="0.55" fill="none">
<line x1="259.0" y1="422.6" x2="295.8" y2="407.0"/>
<line x1="267.4" y1="410.4" x2="267.0" y2="452.3"/>
<line x1="255.1" y1="435.7" x2="311.5" y2="431.5"/>
<line x1="255.1" y1="435.7" x2="267.0" y2="452.3"/>
<line x1="295.8" y1="407.0" x2="281.0" y2="458.7"/>
<line x1="295.8" y1="407.0" x2="307.3" y2="416.2"/>
<line x1="307.3" y1="416.2" x2="281.0" y2="458.7"/>
<line x1="295.8" y1="407.0" x2="285.0" y2="473.2"/>
<line x1="307.2" y1="446.5" x2="295.8" y2="456.5"/>
<line x1="307.2" y1="446.5" x2="281.0" y2="458.7"/>
<line x1="307.2" y1="446.5" x2="285.0" y2="473.2"/>
<line x1="281.0" y1="458.7" x2="295.8" y2="456.5"/>
<line x1="281.0" y1="458.7" x2="285.0" y2="473.2"/>
<line x1="295.8" y1="456.5" x2="285.0" y2="473.2"/>
<line x1="264.5" y1="467.6" x2="285.0" y2="473.2"/>
<line x1="264.5" y1="467.6" x2="260.7" y2="488.8"/>
<line x1="285.0" y1="473.2" x2="260.7" y2="488.8"/>
<line x1="260.7" y1="488.8" x2="285.5" y2="504.2"/>
<line x1="285.0" y1="473.2" x2="285.5" y2="504.2"/>
<line x1="285.0" y1="473.2" x2="301.6" y2="489.0"/>
<line x1="301.6" y1="489.0" x2="285.5" y2="504.2"/>
<line x1="295.8" y1="456.5" x2="260.7" y2="488.8"/>
<line x1="281.0" y1="458.7" x2="264.5" y2="467.6"/>
<line x1="326.4" y1="469.9" x2="348.1" y2="462.1"/>
<line x1="323.2" y1="492.8" x2="318.9" y2="509.0"/>
<line x1="318.9" y1="509.0" x2="343.4" y2="519.2"/>
<line x1="344.3" y1="474.1" x2="370.9" y2="479.5"/>
<line x1="342.3" y1="488.6" x2="368.6" y2="492.8"/>
<line x1="374.2" y1="410.4" x2="363.3" y2="418.0"/>
<line x1="390.7" y1="440.0" x2="401.9" y2="451.1"/>
<line x1="390.7" y1="440.0" x2="400.4" y2="462.4"/>
<line x1="369.5" y1="452.1" x2="375.9" y2="465.9"/>
<line x1="401.9" y1="451.1" x2="400.4" y2="462.4"/>
<line x1="375.6" y1="440.0" x2="375.9" y2="465.9"/>
<line x1="429.0" y1="438.3" x2="443.7" y2="438.2"/>
<line x1="429.0" y1="438.3" x2="427.9" y2="465.0"/>
<line x1="443.7" y1="438.2" x2="427.9" y2="465.0"/>
<line x1="422.2" y1="451.8" x2="427.9" y2="465.0"/>
<line x1="385.7" y1="482.4" x2="399.5" y2="477.7"/>
<line x1="385.7" y1="482.4" x2="385.7" y2="497.8"/>
<line x1="385.7" y1="482.4" x2="402.8" y2="501.6"/>
<line x1="399.5" y1="477.7" x2="385.7" y2="497.8"/>
<line x1="385.7" y1="497.8" x2="402.8" y2="501.6"/>
<line x1="408.4" y1="489.8" x2="402.8" y2="501.6"/>
<line x1="399.5" y1="477.7" x2="402.8" y2="501.6"/>
<line x1="436.6" y1="477.1" x2="450.5" y2="481.0"/>
<line x1="436.6" y1="477.1" x2="457.4" y2="495.0"/>
<line x1="436.6" y1="477.1" x2="456.7" y2="506.4"/>
<line x1="425.3" y1="487.5" x2="436.0" y2="512.2"/>
<line x1="425.3" y1="487.5" x2="425.0" y2="503.0"/>
<line x1="425.0" y1="503.0" x2="436.0" y2="512.2"/>
<line x1="450.5" y1="481.0" x2="457.4" y2="495.0"/>
<line x1="457.4" y1="495.0" x2="456.7" y2="506.4"/>
<line x1="343.4" y1="397.8" x2="357.5" y2="403.6"/>
<line x1="343.4" y1="397.8" x2="323.8" y2="417.7"/>
<line x1="343.4" y1="397.8" x2="329.5" y2="432.7"/>
<line x1="343.4" y1="397.8" x2="343.5" y2="437.7"/>
<line x1="343.4" y1="397.8" x2="357.5" y2="432.0"/>
<line x1="330.0" y1="403.5" x2="357.5" y2="403.6"/>
<line x1="330.0" y1="403.5" x2="329.5" y2="432.7"/>
<line x1="330.0" y1="403.5" x2="343.5" y2="437.7"/>
<line x1="330.0" y1="403.5" x2="357.5" y2="432.0"/>
<line x1="357.5" y1="403.6" x2="323.8" y2="417.7"/>
<line x1="357.5" y1="403.6" x2="329.5" y2="432.7"/>
<line x1="357.5" y1="403.6" x2="343.5" y2="437.7"/>
<line x1="357.5" y1="403.6" x2="357.5" y2="432.0"/>
<line x1="323.8" y1="417.7" x2="329.5" y2="432.7"/>
<line x1="323.8" y1="417.7" x2="343.5" y2="437.7"/>
<line x1="323.8" y1="417.7" x2="357.5" y2="432.0"/>
<line x1="329.5" y1="432.7" x2="343.5" y2="437.7"/>
<line x1="329.5" y1="432.7" x2="357.5" y2="432.0"/>
<line x1="343.5" y1="437.7" x2="357.5" y2="432.0"/>
<line x1="409.8" y1="394.4" x2="425.0" y2="394.6"/>
<line x1="409.8" y1="394.4" x2="434.9" y2="407.0"/>
<line x1="409.8" y1="394.4" x2="433.3" y2="416.7"/>
<line x1="409.8" y1="394.4" x2="425.8" y2="425.3"/>
<line x1="398.9" y1="403.7" x2="434.9" y2="407.0"/>
<line x1="398.9" y1="403.7" x2="433.3" y2="416.7"/>
<line x1="398.9" y1="403.7" x2="425.8" y2="425.3"/>
<line x1="398.9" y1="403.7" x2="425.0" y2="394.6"/>
<line x1="395.8" y1="413.6" x2="433.3" y2="416.7"/>
<line x1="395.8" y1="413.6" x2="425.8" y2="425.3"/>
<line x1="395.8" y1="413.6" x2="434.9" y2="407.0"/>
<line x1="390.8" y1="425.3" x2="433.3" y2="416.7"/>
<line x1="390.8" y1="425.3" x2="409.8" y2="429.0"/>
<line x1="390.8" y1="425.3" x2="425.8" y2="425.3"/>
<line x1="409.8" y1="429.0" x2="425.8" y2="425.3"/>
<line x1="409.8" y1="429.0" x2="433.3" y2="416.7"/>
<line x1="425.0" y1="394.6" x2="434.9" y2="407.0"/>
<line x1="425.0" y1="394.6" x2="433.3" y2="416.7"/>
<line x1="425.0" y1="394.6" x2="425.8" y2="425.3"/>
<line x1="434.9" y1="407.0" x2="433.3" y2="416.7"/>
<line x1="433.3" y1="416.7" x2="425.8" y2="425.3"/>
<line x1="434.9" y1="407.0" x2="425.8" y2="425.3"/>
</g>
<circle cx="285.0" cy="389.7" r="3.9" fill="#5aa2d3"/>
<circle cx="281.2" cy="403.5" r="6.3" fill="#f4593b"/>
<circle cx="295.8" cy="407.0" r="4.4" fill="#f98a35"/>
<circle cx="267.4" cy="410.4" r="4.3" fill="#f4593b"/>
<circle cx="307.3" cy="416.2" r="4.5" fill="#f4593b"/>
<circle cx="259.0" cy="422.6" r="4.4" fill="#f98a35"/>
<circle cx="311.5" cy="431.5" r="4.5" fill="#f4593b"/>
<circle cx="255.1" cy="435.7" r="4.4" fill="#f59ab8"/>
<circle cx="307.2" cy="446.5" r="4.5" fill="#f4593b"/>
<circle cx="267.0" cy="452.3" r="4.4" fill="#b5b1dd"/>
<circle cx="281.0" cy="458.7" r="4.4" fill="#f98a35"/>
<circle cx="295.8" cy="456.5" r="4.4" fill="#f4593b"/>
<circle cx="264.5" cy="467.6" r="4.5" fill="#f98a35"/>
<circle cx="285.0" cy="473.2" r="5.0" fill="#f4593b"/>
<circle cx="305.0" cy="467.6" r="5.9" fill="#f4593b"/>
<circle cx="260.7" cy="488.8" r="6.4" fill="#f4593b"/>
<circle cx="301.6" cy="489.0" r="4.5" fill="#f4593b"/>
<circle cx="285.5" cy="504.2" r="4.8" fill="#f4593b"/>
<circle cx="343.4" cy="397.8" r="4.2" fill="#fbc797"/>
<circle cx="330.0" cy="403.5" r="4.2" fill="#6cc5bd"/>
<circle cx="357.5" cy="403.6" r="4.4" fill="#f4593b"/>
<circle cx="323.8" cy="417.7" r="4.6" fill="#f98a35"/>
<circle cx="329.5" cy="432.7" r="4.4" fill="#f59ab8"/>
<circle cx="343.5" cy="437.7" r="4.2" fill="#fba55c"/>
<circle cx="357.5" cy="432.0" r="7.5" fill="#f4593b"/>
<circle cx="374.2" cy="410.4" r="4.4" fill="#5aa2d3"/>
<circle cx="363.3" cy="418.0" r="4.4" fill="#f4593b"/>
<circle cx="330.3" cy="452.3" r="7.5" fill="#f4593b"/>
<circle cx="326.4" cy="469.9" r="6.5" fill="#f4593b"/>
<circle cx="348.1" cy="462.1" r="4.5" fill="#f4593b"/>
<circle cx="344.3" cy="474.1" r="4.5" fill="#f4593b"/>
<circle cx="342.3" cy="488.6" r="6.0" fill="#f4593b"/>
<circle cx="323.2" cy="492.8" r="4.5" fill="#5aa2d3"/>
<circle cx="318.9" cy="509.0" r="4.2" fill="#6cc5bd"/>
<circle cx="351.8" cy="504.2" r="7.3" fill="#f4593b"/>
<circle cx="343.4" cy="519.2" r="4.0" fill="#f4593b"/>
<circle cx="409.8" cy="394.4" r="4.6" fill="#f98a35"/>
<circle cx="425.0" cy="394.6" r="4.4" fill="#f4593b"/>
<circle cx="398.9" cy="403.7" r="4.4" fill="#c6d9f0"/>
<circle cx="434.9" cy="407.0" r="4.4" fill="#f4593b"/>
<circle cx="395.8" cy="413.6" r="4.4" fill="#f4593b"/>
<circle cx="433.3" cy="416.7" r="4.4" fill="#f4593b"/>
<circle cx="390.8" cy="425.3" r="4.6" fill="#f98a35"/>
<circle cx="425.8" cy="425.3" r="4.6" fill="#f59ab8"/>
<circle cx="409.8" cy="429.0" r="5.0" fill="#f98a35"/>
<circle cx="375.6" cy="440.0" r="4.2" fill="#f4593b"/>
<circle cx="390.7" cy="440.0" r="4.2" fill="#f4593b"/>
<circle cx="369.5" cy="452.1" r="4.2" fill="#f4593b"/>
<circle cx="401.9" cy="451.1" r="4.2" fill="#f4593b"/>
<circle cx="375.9" cy="465.9" r="6.5" fill="#f4593b"/>
<circle cx="400.4" cy="462.4" r="4.3" fill="#f4593b"/>
<circle cx="429.0" cy="438.3" r="4.6" fill="#5aa2d3"/>
<circle cx="443.7" cy="438.2" r="4.2" fill="#f4593b"/>
<circle cx="422.2" cy="451.8" r="4.2" fill="#c6d9f0"/>
<circle cx="451.3" cy="451.8" r="6.5" fill="#f4593b"/>
<circle cx="427.9" cy="465.0" r="4.2" fill="#fba55c"/>
<circle cx="444.0" cy="464.6" r="4.5" fill="#f4593b"/>
<circle cx="370.9" cy="479.5" r="4.2" fill="#f4593b"/>
<circle cx="385.7" cy="482.4" r="4.6" fill="#5aa2d3"/>
<circle cx="399.5" cy="477.7" r="4.4" fill="#f4593b"/>
<circle cx="408.4" cy="489.8" r="4.5" fill="#5aa2d3"/>
<circle cx="368.6" cy="492.8" r="4.4" fill="#f59ab8"/>
<circle cx="385.7" cy="497.8" r="5.0" fill="#5aa2d3"/>
<circle cx="402.8" cy="501.6" r="4.5" fill="#f4593b"/>
<circle cx="436.6" cy="477.1" r="4.5" fill="#b5b1dd"/>
<circle cx="450.5" cy="481.0" r="4.5" fill="#fba55c"/>
<circle cx="425.3" cy="487.5" r="4.5" fill="#a3dd86"/>
<circle cx="457.4" cy="495.0" r="4.5" fill="#5aa2d3"/>
<circle cx="425.0" cy="503.0" r="4.8" fill="#b5b1dd"/>
<circle cx="456.7" cy="506.4" r="4.3" fill="#f4593b"/>
<circle cx="436.0" cy="512.2" r="4.5" fill="#5aa2d3"/>
<g font-family="Liberation Sans, sans-serif" font-size="3.4" fill="#111" stroke="#111" stroke-width="0.08" text-anchor="middle">
<text x="285.0" y="390.92">PE 36:1</text>
<text x="281.2" y="404.72">TG 54:3</text>
<text x="295.8" y="408.22">PI 36:1</text>
<text x="267.4" y="411.62">TG 59:2</text>
<text x="307.3" y="417.42">TG 35:1</text>
<text x="259.0" y="423.82">PI 34:1</text>
<text x="311.5" y="432.72">TG 58:1</text>
<text x="255.1" y="436.92">PA 36:3</text>
<text x="307.2" y="447.72">TG 34:0</text>
<text x="267.0" y="453.52">LPC 16:0</text>
<text x="281.0" y="459.92">PI 34:2</text>
<text x="295.8" y="457.72">TG 54:5</text>
<text x="264.5" y="468.82">PI 32:1</text>
<text x="285.0" y="474.42">TG 50:5</text>
<text x="305.0" y="468.82">TG 54:2</text>
<text x="260.7" y="490.02">TG 34:9</text>
<text x="301.6" y="490.22">TG 48:12</text>
<text x="285.5" y="505.42">TG 32:0</text>
<text x="343.4" y="399.02">SM 40:1</text>
<text x="330.0" y="404.72">PG 33:0</text>
<text x="357.5" y="404.82">TG 51:6</text>
<text x="323.8" y="418.92">PI 36:4</text>
<text x="329.5" y="433.92">PA 36:4</text>
<text x="343.5" y="438.92">MG 38:7</text>
<text x="357.5" y="433.22">TG 46:2</text>
<text x="374.2" y="411.62">PE 36:4</text>
<text x="363.3" y="419.22">TG 36:2</text>
<text x="330.3" y="453.52">TG 38:0</text>
<text x="326.4" y="471.12">TG 54:6</text>
<text x="348.1" y="463.32">TG 54:8</text>
<text x="344.3" y="475.32">TG 26:0</text>
<text x="342.3" y="489.82">TG 50:3</text>
<text x="323.2" y="494.02">PE 36:1</text>
<text x="318.9" y="510.22">PG 35:0</text>
<text x="351.8" y="505.42">TG 48:3</text>
<text x="343.4" y="520.42">TG 37:0</text>
<text x="409.8" y="395.62">PI 36:5</text>
<text x="425.0" y="395.82">TG 54:9</text>
<text x="398.9" y="404.92">PC 30:0</text>
<text x="434.9" y="408.22">TG 52:8</text>
<text x="395.8" y="414.82">TG 54:4</text>
<text x="433.3" y="417.92">TG 30:0</text>
<text x="390.8" y="426.52">PI 34:3</text>
<text x="425.8" y="426.52">PA 36:5</text>
<text x="409.8" y="430.22">PI 36:3</text>
<text x="375.6" y="441.22">TG 60:13</text>
<text x="390.7" y="441.22">TG 60:2</text>
<text x="369.5" y="453.32">TG 52:4</text>
<text x="401.9" y="452.32">TG 54:7</text>
<text x="375.9" y="467.12">TG 48:2</text>
<text x="400.4" y="463.62">TG 59:2</text>
<text x="429.0" y="439.52">PE 34:1</text>
<text x="443.7" y="439.42">TG 28:0</text>
<text x="422.2" y="453.02">PC 36:4</text>
<text x="451.3" y="453.02">TG 40:0</text>
<text x="427.9" y="466.22">MG 30:8</text>
<text x="444.0" y="465.82">TG 40:0</text>
<text x="370.9" y="480.72">TG 30:0</text>
<text x="385.7" y="483.62">PE 36:2</text>
<text x="399.5" y="478.92">TG 58:2</text>
<text x="408.4" y="491.02">PE 40:1</text>
<text x="368.6" y="494.02">PA 34:3</text>
<text x="385.7" y="499.02">PE 34:2</text>
<text x="402.8" y="502.82">TG 62:13</text>
<text x="436.6" y="478.32">LPC 18:3</text>
<text x="450.5" y="482.22">MG 36:6</text>
<text x="425.3" y="488.72">Cer 42:6</text>
<text x="457.4" y="496.22">PE 34:3</text>
<text x="425.0" y="504.22">LPC 18:2</text>
<text x="456.7" y="507.62">TG 64:8</text>
<text x="436.0" y="513.42">PE 42:1</text>
</g>
<circle cx="10.5" cy="540.3" r="5.3" fill="#f4593b"/>
<circle cx="36.7" cy="540.3" r="5.3" fill="#fba55c"/>
<circle cx="67.3" cy="540.3" r="5.3" fill="#c6d9f0"/>
<circle cx="92.9" cy="540.3" r="5.3" fill="#5aa2d3"/>
<circle cx="118.8" cy="540.3" r="5.3" fill="#b5b1dd"/>
<circle cx="150.2" cy="540.3" r="5.3" fill="#9ccbe5"/>
<circle cx="180.3" cy="540.3" r="5.3" fill="#f59ab8"/>
<circle cx="210.4" cy="540.3" r="5.3" fill="#f98a35"/>
<circle cx="238.9" cy="540.3" r="5.3" fill="#6cc5bd"/>
<circle cx="271.5" cy="540.3" r="5.3" fill="#a3dd86"/>
<circle cx="302.4" cy="540.3" r="5.3" fill="#fbc797"/>
<g font-family="Liberation Serif, serif" font-size="6.8" fill="#111" stroke="#111" stroke-width="0.1">
<text x="18.3" y="542.6">TG</text>
<text x="44.2" y="542.6">MG</text>
<text x="74.8" y="542.6">PC</text>
<text x="99.2" y="543.8000000000001">PE</text>
<text x="126.6" y="542.6">LPC</text>
<text x="157.2" y="542.6">LPE</text>
<text x="189.4" y="542.6">PA</text>
<text x="218.7" y="542.6">PI</text>
<text x="247.1" y="542.6">PG</text>
<text x="279.8" y="542.6">Cer</text>
<text x="312.9" y="542.6">SM</text>
</g>
</svg>
</body></html>
